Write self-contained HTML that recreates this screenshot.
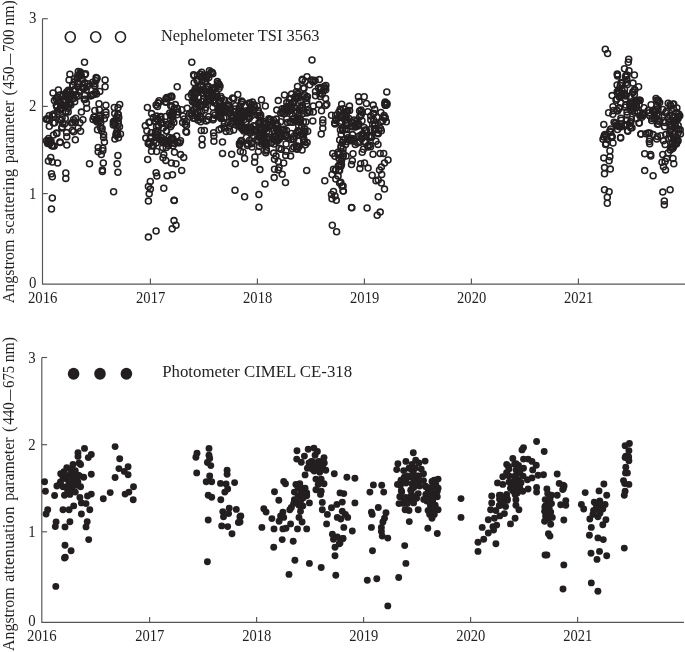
<!DOCTYPE html>
<html lang="en"><head><meta charset="utf-8"><title>Angstrom parameters 2016-2021</title>
<style>html,body{margin:0;padding:0;background:#fff}svg{display:block}</style></head>
<body>
<svg width="685" height="652" viewBox="0 0 685 652">
<rect width="685" height="652" fill="#fff"/>
<g stroke="#585556" stroke-width="1.15" fill="none"><path d="M42.5 18.7V284.1H685"/><path d="M42.5 18.7h5.3"/><path d="M42.5 106.4h5.3"/><path d="M42.5 193.6h5.3"/><path d="M150.4 284.1v-5.5"/><path d="M257.4 284.1v-5.5"/><path d="M364.4 284.1v-5.5"/><path d="M471.4 284.1v-5.5"/><path d="M578.4 284.1v-5.5"/></g>
<g stroke="#585556" stroke-width="1.15" fill="none"><path d="M41.8 357.5V622.4H684"/><path d="M41.8 357.5h5.3"/><path d="M41.8 444.7h5.3"/><path d="M41.8 531.8h5.3"/><path d="M149.6 622.4v-5.5"/><path d="M256.6 622.4v-5.5"/><path d="M363.6 622.4v-5.5"/><path d="M470.6 622.4v-5.5"/><path d="M577.6 622.4v-5.5"/></g>
<g font-family="Liberation Serif, serif" font-size="16.4" fill="#231f20">
<text x="28.9" y="23.3" textLength="7.4" lengthAdjust="spacingAndGlyphs">3</text><text x="28.9" y="110.8" textLength="7.4" lengthAdjust="spacingAndGlyphs">2</text><text x="28.9" y="199" textLength="7.4" lengthAdjust="spacingAndGlyphs">1</text><text x="28.9" y="287.8" textLength="7.4" lengthAdjust="spacingAndGlyphs">0</text>
<text x="28.300000000000004" y="362.6" textLength="7.4" lengthAdjust="spacingAndGlyphs">3</text><text x="28.300000000000004" y="449.9" textLength="7.4" lengthAdjust="spacingAndGlyphs">2</text><text x="28.300000000000004" y="537.2" textLength="7.4" lengthAdjust="spacingAndGlyphs">1</text><text x="28.300000000000004" y="625.8" textLength="7.4" lengthAdjust="spacingAndGlyphs">0</text>
<text x="27.9" y="303.2" textLength="29.6" lengthAdjust="spacingAndGlyphs">2016</text><text x="136.1" y="303.2" textLength="29.1" lengthAdjust="spacingAndGlyphs">2017</text><text x="243.1" y="303.2" textLength="29.1" lengthAdjust="spacingAndGlyphs">2018</text><text x="350.1" y="303.2" textLength="29.1" lengthAdjust="spacingAndGlyphs">2019</text><text x="457.1" y="303.2" textLength="29.1" lengthAdjust="spacingAndGlyphs">2020</text><text x="564.1" y="303.2" textLength="29.1" lengthAdjust="spacingAndGlyphs">2021</text>
<text x="27.0" y="641.2" textLength="29.6" lengthAdjust="spacingAndGlyphs">2016</text><text x="135.3" y="641.2" textLength="29.1" lengthAdjust="spacingAndGlyphs">2017</text><text x="242.3" y="641.2" textLength="29.1" lengthAdjust="spacingAndGlyphs">2018</text><text x="349.3" y="641.2" textLength="29.1" lengthAdjust="spacingAndGlyphs">2019</text><text x="456.3" y="641.2" textLength="29.1" lengthAdjust="spacingAndGlyphs">2020</text><text x="563.3" y="641.2" textLength="29.1" lengthAdjust="spacingAndGlyphs">2021</text>
<text x="160.9" y="41.1" textLength="158.5" lengthAdjust="spacingAndGlyphs">Nephelometer TSI 3563</text>
<text x="162.2" y="376.7" textLength="190" lengthAdjust="spacingAndGlyphs">Photometer CIMEL CE-318</text>
<text transform="translate(14.0 303.1) rotate(-90)"><tspan x="-0.2" textLength="63.8" lengthAdjust="spacingAndGlyphs">Angstrom</tspan> <tspan x="68.9" textLength="65.3" lengthAdjust="spacingAndGlyphs">scattering</tspan> <tspan x="139.8" textLength="62.9" lengthAdjust="spacingAndGlyphs">parameter</tspan> <tspan x="207.7">(</tspan><tspan x="214.1" textLength="22.4" lengthAdjust="spacingAndGlyphs">450</tspan><tspan x="238.1" textLength="11.3" lengthAdjust="spacingAndGlyphs">—</tspan><tspan x="251.2" textLength="22.4" lengthAdjust="spacingAndGlyphs">700</tspan> <tspan x="277.5" textLength="25.4" lengthAdjust="spacingAndGlyphs">nm)</tspan></text>
<text transform="translate(14.0 650.8) rotate(-90)"><tspan x="-0.2" textLength="63.6" lengthAdjust="spacingAndGlyphs">Angstrom</tspan> <tspan x="68.7" textLength="75.6" lengthAdjust="spacingAndGlyphs">attenuation</tspan> <tspan x="150.0" textLength="63.3" lengthAdjust="spacingAndGlyphs">parameter</tspan> <tspan x="218.7">(</tspan><tspan x="226.0" textLength="22.4" lengthAdjust="spacingAndGlyphs">440</tspan><tspan x="249.7" textLength="11.3" lengthAdjust="spacingAndGlyphs">—</tspan><tspan x="262.8" textLength="22.2" lengthAdjust="spacingAndGlyphs">675</tspan> <tspan x="288.5" textLength="25.4" lengthAdjust="spacingAndGlyphs">nm)</tspan></text>
</g>
<g fill="none" stroke="#231f20" stroke-width="1.65">
<ellipse cx="70.3" cy="37" rx="5.0" ry="5.25"/>
<ellipse cx="95.7" cy="37" rx="5.0" ry="5.25"/>
<ellipse cx="120.5" cy="37" rx="5.0" ry="5.25"/>
</g>
<g fill="#231f20">
<ellipse cx="73.6" cy="373.8" rx="5.8" ry="5.95"/>
<ellipse cx="100.0" cy="373.8" rx="5.8" ry="5.95"/>
<ellipse cx="126.4" cy="373.8" rx="5.8" ry="5.95"/>
</g>
<g fill="none" stroke="#231f20" stroke-width="1.55">
<circle cx="84.5" cy="62.3" r="2.98"/><circle cx="69.9" cy="74.2" r="2.98"/><circle cx="78.3" cy="71.5" r="2.98"/><circle cx="85.5" cy="73.8" r="2.98"/><circle cx="69.1" cy="79.9" r="2.98"/><circle cx="96.7" cy="78.4" r="2.98"/><circle cx="105.1" cy="79.9" r="2.98"/><circle cx="105.1" cy="86.8" r="2.98"/><circle cx="94.4" cy="83.7" r="2.98"/><circle cx="95.9" cy="80.7" r="2.98"/><circle cx="58.4" cy="89.9" r="2.98"/><circle cx="53" cy="92.9" r="2.98"/><circle cx="99.8" cy="91.4" r="2.98"/><circle cx="93.6" cy="94.5" r="2.98"/><circle cx="99" cy="103.7" r="2.98"/><circle cx="105.9" cy="105.2" r="2.98"/><circle cx="119.7" cy="104.4" r="2.98"/><circle cx="114.3" cy="107.5" r="2.98"/><circle cx="105.9" cy="112.1" r="2.98"/><circle cx="86.8" cy="108.3" r="2.98"/><circle cx="81.4" cy="112.1" r="2.98"/><circle cx="82.9" cy="119.8" r="2.98"/><circle cx="80.6" cy="131.3" r="2.98"/><circle cx="75.3" cy="139.7" r="2.98"/><circle cx="66.8" cy="136.7" r="2.98"/><circle cx="59.9" cy="142" r="2.98"/><circle cx="66.8" cy="145.1" r="2.98"/><circle cx="53" cy="145.9" r="2.98"/><circle cx="48.4" cy="142" r="2.98"/><circle cx="49.2" cy="140.5" r="2.98"/><circle cx="47.7" cy="143.6" r="2.98"/><circle cx="50" cy="142.8" r="2.98"/><circle cx="97.5" cy="129.8" r="2.98"/><circle cx="103.6" cy="134.4" r="2.98"/><circle cx="103.6" cy="137.4" r="2.98"/><circle cx="104.4" cy="142" r="2.98"/><circle cx="98.2" cy="147.4" r="2.98"/><circle cx="102.8" cy="148.2" r="2.98"/><circle cx="50.7" cy="157.4" r="2.98"/><circle cx="48.4" cy="161" r="2.98"/><circle cx="52.3" cy="162" r="2.98"/><circle cx="57.6" cy="163" r="2.98"/><circle cx="51.5" cy="173.8" r="2.98"/><circle cx="52.3" cy="176.8" r="2.98"/><circle cx="65.8" cy="173" r="2.98"/><circle cx="65.8" cy="178.4" r="2.98"/><circle cx="52.3" cy="197.9" r="2.98"/><circle cx="51.5" cy="209" r="2.98"/><circle cx="89.5" cy="163.8" r="2.98"/><circle cx="101.3" cy="154.6" r="2.98"/><circle cx="98.2" cy="151.8" r="2.98"/><circle cx="102.8" cy="150.8" r="2.98"/><circle cx="103.3" cy="163" r="2.98"/><circle cx="102.4" cy="169.9" r="2.98"/><circle cx="102.4" cy="171.5" r="2.98"/><circle cx="117.9" cy="155.4" r="2.98"/><circle cx="117.1" cy="163.8" r="2.98"/><circle cx="117.9" cy="172.2" r="2.98"/><circle cx="113.6" cy="191.7" r="2.98"/><circle cx="191.8" cy="62.3" r="2.98"/><circle cx="177.2" cy="86.8" r="2.98"/><circle cx="147.4" cy="107.5" r="2.98"/><circle cx="237.8" cy="94.5" r="2.98"/><circle cx="170.7" cy="96.8" r="2.98"/><circle cx="201.3" cy="130.5" r="2.98"/><circle cx="204.4" cy="130.5" r="2.98"/><circle cx="202.1" cy="139" r="2.98"/><circle cx="202.1" cy="145.1" r="2.98"/><circle cx="213.6" cy="132.8" r="2.98"/><circle cx="213.9" cy="135.9" r="2.98"/><circle cx="213.9" cy="141.3" r="2.98"/><circle cx="222.5" cy="142" r="2.98"/><circle cx="241.2" cy="140.5" r="2.98"/><circle cx="239.6" cy="145.1" r="2.98"/><circle cx="147.7" cy="159.5" r="2.98"/><circle cx="151.5" cy="151.2" r="2.98"/><circle cx="156.6" cy="151.5" r="2.98"/><circle cx="163.8" cy="154.6" r="2.98"/><circle cx="163" cy="157.7" r="2.98"/><circle cx="165.8" cy="160.4" r="2.98"/><circle cx="171.4" cy="163" r="2.98"/><circle cx="176" cy="163.8" r="2.98"/><circle cx="174.5" cy="152.3" r="2.98"/><circle cx="180.6" cy="154.6" r="2.98"/><circle cx="183.7" cy="157.4" r="2.98"/><circle cx="181.7" cy="170.4" r="2.98"/><circle cx="156.1" cy="172.7" r="2.98"/><circle cx="156.9" cy="176.1" r="2.98"/><circle cx="167.1" cy="175.8" r="2.98"/><circle cx="172.5" cy="174.8" r="2.98"/><circle cx="150.3" cy="181.4" r="2.98"/><circle cx="148.4" cy="186.5" r="2.98"/><circle cx="150.4" cy="189.1" r="2.98"/><circle cx="149.2" cy="193.7" r="2.98"/><circle cx="148.4" cy="201.1" r="2.98"/><circle cx="163.8" cy="188.3" r="2.98"/><circle cx="174" cy="200.3" r="2.98"/><circle cx="174.3" cy="200.6" r="2.98"/><circle cx="174" cy="220.6" r="2.98"/><circle cx="176" cy="225.2" r="2.98"/><circle cx="172.2" cy="228.7" r="2.98"/><circle cx="156.1" cy="231" r="2.98"/><circle cx="148.4" cy="237.1" r="2.98"/><circle cx="222.5" cy="153.4" r="2.98"/><circle cx="231.7" cy="154.3" r="2.98"/><circle cx="240.4" cy="151.5" r="2.98"/><circle cx="235.3" cy="163.8" r="2.98"/><circle cx="235" cy="190.2" r="2.98"/><circle cx="312" cy="60" r="2.98"/><circle cx="322.8" cy="119.8" r="2.98"/><circle cx="322.8" cy="122.9" r="2.98"/><circle cx="322.8" cy="128.2" r="2.98"/><circle cx="321.2" cy="134" r="2.98"/><circle cx="313.3" cy="106" r="2.98"/><circle cx="313.3" cy="112.1" r="2.98"/><circle cx="312.8" cy="120.9" r="2.98"/><circle cx="331.5" cy="115.2" r="2.98"/><circle cx="261.5" cy="99.8" r="2.98"/><circle cx="278.3" cy="100.6" r="2.98"/><circle cx="265.3" cy="106" r="2.98"/><circle cx="276.8" cy="110.1" r="2.98"/><circle cx="284.5" cy="94.9" r="2.98"/><circle cx="297.5" cy="86.5" r="2.98"/><circle cx="244.6" cy="158.4" r="2.98"/><circle cx="243.1" cy="152.3" r="2.98"/><circle cx="254.9" cy="156.9" r="2.98"/><circle cx="254.6" cy="162.3" r="2.98"/><circle cx="259.9" cy="169.6" r="2.98"/><circle cx="265.8" cy="152.8" r="2.98"/><circle cx="258.4" cy="151.5" r="2.98"/><circle cx="273.7" cy="153.1" r="2.98"/><circle cx="276" cy="156.1" r="2.98"/><circle cx="274.5" cy="159.2" r="2.98"/><circle cx="278.3" cy="161.5" r="2.98"/><circle cx="283.7" cy="163" r="2.98"/><circle cx="274.5" cy="169.2" r="2.98"/><circle cx="279.1" cy="167.6" r="2.98"/><circle cx="278.3" cy="169.9" r="2.98"/><circle cx="282.2" cy="174.2" r="2.98"/><circle cx="274.2" cy="177.6" r="2.98"/><circle cx="285.5" cy="182.5" r="2.98"/><circle cx="265" cy="184" r="2.98"/><circle cx="258.9" cy="194.5" r="2.98"/><circle cx="244.6" cy="196.8" r="2.98"/><circle cx="258.9" cy="207.2" r="2.98"/><circle cx="285.7" cy="155.4" r="2.98"/><circle cx="290.6" cy="156.1" r="2.98"/><circle cx="286" cy="151.2" r="2.98"/><circle cx="302.1" cy="150" r="2.98"/><circle cx="306.7" cy="170.4" r="2.98"/><circle cx="324.8" cy="180.7" r="2.98"/><circle cx="332.7" cy="153.4" r="2.98"/><circle cx="338.1" cy="152.3" r="2.98"/><circle cx="338.9" cy="158.4" r="2.98"/><circle cx="341.2" cy="161.5" r="2.98"/><circle cx="339.6" cy="164.6" r="2.98"/><circle cx="333.5" cy="169.2" r="2.98"/><circle cx="335.8" cy="169.9" r="2.98"/><circle cx="332" cy="174.5" r="2.98"/><circle cx="338.1" cy="176.1" r="2.98"/><circle cx="335.8" cy="179.1" r="2.98"/><circle cx="339.6" cy="183" r="2.98"/><circle cx="341.9" cy="186" r="2.98"/><circle cx="343" cy="191.1" r="2.98"/><circle cx="333.5" cy="191.4" r="2.98"/><circle cx="331.5" cy="194.5" r="2.98"/><circle cx="335" cy="196" r="2.98"/><circle cx="332" cy="198.8" r="2.98"/><circle cx="336.3" cy="200.3" r="2.98"/><circle cx="332.3" cy="225.2" r="2.98"/><circle cx="336.6" cy="231.7" r="2.98"/><circle cx="386.8" cy="91.9" r="2.98"/><circle cx="385.2" cy="102.1" r="2.98"/><circle cx="385.2" cy="105.2" r="2.98"/><circle cx="384.8" cy="103.7" r="2.98"/><circle cx="358.4" cy="96.8" r="2.98"/><circle cx="364.2" cy="96.8" r="2.98"/><circle cx="359.2" cy="101.4" r="2.98"/><circle cx="366.4" cy="103.4" r="2.98"/><circle cx="343.1" cy="153.1" r="2.98"/><circle cx="346.1" cy="156.1" r="2.98"/><circle cx="341.5" cy="160.7" r="2.98"/><circle cx="341.5" cy="164.6" r="2.98"/><circle cx="353" cy="153.8" r="2.98"/><circle cx="352.3" cy="160.7" r="2.98"/><circle cx="351.5" cy="164.6" r="2.98"/><circle cx="362.2" cy="152.3" r="2.98"/><circle cx="360.7" cy="163.8" r="2.98"/><circle cx="364.5" cy="163" r="2.98"/><circle cx="359.9" cy="168.4" r="2.98"/><circle cx="368.1" cy="168.1" r="2.98"/><circle cx="373" cy="154.3" r="2.98"/><circle cx="380.2" cy="153.4" r="2.98"/><circle cx="383.7" cy="153.4" r="2.98"/><circle cx="388" cy="160" r="2.98"/><circle cx="384.5" cy="163" r="2.98"/><circle cx="381.4" cy="166.9" r="2.98"/><circle cx="379.5" cy="169.9" r="2.98"/><circle cx="381.7" cy="174.5" r="2.98"/><circle cx="372.2" cy="175.3" r="2.98"/><circle cx="376" cy="180.7" r="2.98"/><circle cx="378.3" cy="179.9" r="2.98"/><circle cx="381.4" cy="183" r="2.98"/><circle cx="384.5" cy="189.1" r="2.98"/><circle cx="378.3" cy="196.8" r="2.98"/><circle cx="340.8" cy="182.2" r="2.98"/><circle cx="343.1" cy="186" r="2.98"/><circle cx="343.4" cy="191.1" r="2.98"/><circle cx="351.5" cy="207.5" r="2.98"/><circle cx="351.8" cy="207.8" r="2.98"/><circle cx="367.1" cy="208" r="2.98"/><circle cx="380.2" cy="212.1" r="2.98"/><circle cx="377.2" cy="215.2" r="2.98"/><circle cx="605.3" cy="49.2" r="2.98"/><circle cx="607.6" cy="53.5" r="2.98"/><circle cx="628.7" cy="59.2" r="2.98"/><circle cx="628.3" cy="62.2" r="2.98"/><circle cx="624.5" cy="68.8" r="2.98"/><circle cx="629" cy="70.7" r="2.98"/><circle cx="626" cy="75.6" r="2.98"/><circle cx="634.4" cy="75" r="2.98"/><circle cx="617.6" cy="76" r="2.98"/><circle cx="603.8" cy="124.4" r="2.98"/><circle cx="641" cy="133.9" r="2.98"/><circle cx="604.5" cy="135.1" r="2.98"/><circle cx="610.7" cy="129" r="2.98"/><circle cx="620.6" cy="137.4" r="2.98"/><circle cx="627.5" cy="130.5" r="2.98"/><circle cx="629.8" cy="125.9" r="2.98"/><circle cx="605.3" cy="134.6" r="2.98"/><circle cx="603" cy="139.2" r="2.98"/><circle cx="606.1" cy="143.8" r="2.98"/><circle cx="613" cy="143" r="2.98"/><circle cx="612.2" cy="136.9" r="2.98"/><circle cx="610.7" cy="132.3" r="2.98"/><circle cx="620.6" cy="138" r="2.98"/><circle cx="609.9" cy="150.7" r="2.98"/><circle cx="603.8" cy="157.9" r="2.98"/><circle cx="609.9" cy="156.8" r="2.98"/><circle cx="609.1" cy="160.7" r="2.98"/><circle cx="604.5" cy="167.6" r="2.98"/><circle cx="610.3" cy="169.1" r="2.98"/><circle cx="604.5" cy="173.7" r="2.98"/><circle cx="604.5" cy="189.8" r="2.98"/><circle cx="609.1" cy="191.8" r="2.98"/><circle cx="607.3" cy="197.2" r="2.98"/><circle cx="607.3" cy="203.3" r="2.98"/><circle cx="627.8" cy="131.2" r="2.98"/><circle cx="640.9" cy="134.1" r="2.98"/><circle cx="649.7" cy="133.1" r="2.98"/><circle cx="657.4" cy="136.4" r="2.98"/><circle cx="649.7" cy="139.2" r="2.98"/><circle cx="649.3" cy="141.5" r="2.98"/><circle cx="649.7" cy="143.8" r="2.98"/><circle cx="644.7" cy="153.8" r="2.98"/><circle cx="650.5" cy="154.5" r="2.98"/><circle cx="650.8" cy="156.1" r="2.98"/><circle cx="644.7" cy="170.6" r="2.98"/><circle cx="653.1" cy="175.7" r="2.98"/><circle cx="665.8" cy="134.6" r="2.98"/><circle cx="663.5" cy="140.7" r="2.98"/><circle cx="665.1" cy="144.6" r="2.98"/><circle cx="678.1" cy="133.1" r="2.98"/><circle cx="676.6" cy="136.9" r="2.98"/><circle cx="678.1" cy="140.7" r="2.98"/><circle cx="675" cy="143.8" r="2.98"/><circle cx="673.5" cy="146.9" r="2.98"/><circle cx="670.4" cy="149.9" r="2.98"/><circle cx="668.1" cy="153" r="2.98"/><circle cx="662.8" cy="154.5" r="2.98"/><circle cx="666.6" cy="158.4" r="2.98"/><circle cx="673" cy="158.4" r="2.98"/><circle cx="662" cy="162.2" r="2.98"/><circle cx="665.1" cy="161.4" r="2.98"/><circle cx="673.8" cy="163.7" r="2.98"/><circle cx="663.5" cy="166.8" r="2.98"/><circle cx="665.5" cy="169.9" r="2.98"/><circle cx="662.8" cy="192.1" r="2.98"/><circle cx="670.1" cy="189.8" r="2.98"/><circle cx="664.3" cy="200.9" r="2.98"/><circle cx="664.3" cy="204.7" r="2.98"/><circle cx="56.1" cy="98.8" r="2.98"/><circle cx="70.5" cy="103.3" r="2.98"/><circle cx="72.4" cy="99" r="2.98"/><circle cx="56.6" cy="105.5" r="2.98"/><circle cx="57.3" cy="97.5" r="2.98"/><circle cx="57" cy="107.2" r="2.98"/><circle cx="65.5" cy="93.8" r="2.98"/><circle cx="64.7" cy="102.1" r="2.98"/><circle cx="65.5" cy="95.7" r="2.98"/><circle cx="65.9" cy="105.5" r="2.98"/><circle cx="61.1" cy="108.1" r="2.98"/><circle cx="54.4" cy="100.6" r="2.98"/><circle cx="69.4" cy="102.4" r="2.98"/><circle cx="63.3" cy="94.8" r="2.98"/><circle cx="61.2" cy="105" r="2.98"/><circle cx="70.4" cy="96.3" r="2.98"/><circle cx="59" cy="100.2" r="2.98"/><circle cx="66.1" cy="112" r="2.98"/><circle cx="59.8" cy="101.9" r="2.98"/><circle cx="60.4" cy="108.2" r="2.98"/><circle cx="60.2" cy="109.4" r="2.98"/><circle cx="70.8" cy="104.9" r="2.98"/><circle cx="60.8" cy="110" r="2.98"/><circle cx="63.1" cy="102.2" r="2.98"/><circle cx="65.6" cy="111.2" r="2.98"/><circle cx="74.7" cy="101.8" r="2.98"/><circle cx="67.9" cy="108.2" r="2.98"/><circle cx="60.6" cy="103.3" r="2.98"/><circle cx="57.6" cy="97.4" r="2.98"/><circle cx="66.9" cy="104.4" r="2.98"/><circle cx="61.2" cy="105.5" r="2.98"/><circle cx="56.3" cy="105.2" r="2.98"/><circle cx="63.1" cy="95.7" r="2.98"/><circle cx="68.7" cy="104.3" r="2.98"/><circle cx="59.8" cy="95" r="2.98"/><circle cx="74" cy="98.3" r="2.98"/><circle cx="67.2" cy="94.5" r="2.98"/><circle cx="59.5" cy="109.6" r="2.98"/><circle cx="77.3" cy="77.7" r="2.98"/><circle cx="77.3" cy="78.7" r="2.98"/><circle cx="77.8" cy="75.2" r="2.98"/><circle cx="86.2" cy="90" r="2.98"/><circle cx="73" cy="85.4" r="2.98"/><circle cx="85" cy="83.6" r="2.98"/><circle cx="80.4" cy="74.5" r="2.98"/><circle cx="83" cy="88.1" r="2.98"/><circle cx="77.8" cy="87.1" r="2.98"/><circle cx="80.4" cy="75.4" r="2.98"/><circle cx="79.2" cy="91.4" r="2.98"/><circle cx="82.2" cy="87.4" r="2.98"/><circle cx="81.2" cy="75.8" r="2.98"/><circle cx="84.5" cy="87.9" r="2.98"/><circle cx="74.2" cy="82.1" r="2.98"/><circle cx="87.3" cy="86.5" r="2.98"/><circle cx="72.7" cy="85.2" r="2.98"/><circle cx="74.4" cy="78.8" r="2.98"/><circle cx="84.7" cy="82.7" r="2.98"/><circle cx="80.8" cy="73.2" r="2.98"/><circle cx="82.2" cy="79.7" r="2.98"/><circle cx="77.9" cy="83.8" r="2.98"/><circle cx="87.8" cy="83.7" r="2.98"/><circle cx="77.8" cy="82.1" r="2.98"/><circle cx="83.7" cy="88.6" r="2.98"/><circle cx="80.3" cy="72.1" r="2.98"/><circle cx="74.8" cy="89.2" r="2.98"/><circle cx="84.9" cy="74.7" r="2.98"/><circle cx="75.2" cy="90.9" r="2.98"/><circle cx="69.8" cy="95.3" r="2.98"/><circle cx="68.3" cy="90.2" r="2.98"/><circle cx="77.1" cy="96.2" r="2.98"/><circle cx="68.7" cy="92.1" r="2.98"/><circle cx="66.8" cy="91.9" r="2.98"/><circle cx="69.8" cy="91.6" r="2.98"/><circle cx="68.5" cy="97.6" r="2.98"/><circle cx="75.8" cy="94.8" r="2.98"/><circle cx="78.9" cy="95.7" r="2.98"/><circle cx="52.4" cy="114.9" r="2.98"/><circle cx="62.2" cy="127" r="2.98"/><circle cx="72.7" cy="122.4" r="2.98"/><circle cx="53.3" cy="123" r="2.98"/><circle cx="47.7" cy="119.3" r="2.98"/><circle cx="53.9" cy="114" r="2.98"/><circle cx="46.6" cy="119.1" r="2.98"/><circle cx="61.1" cy="120.2" r="2.98"/><circle cx="73.5" cy="119.7" r="2.98"/><circle cx="72.4" cy="130.4" r="2.98"/><circle cx="56.9" cy="133.4" r="2.98"/><circle cx="78.1" cy="128" r="2.98"/><circle cx="73.7" cy="131.8" r="2.98"/><circle cx="57.7" cy="111.4" r="2.98"/><circle cx="75.3" cy="121.9" r="2.98"/><circle cx="46.4" cy="119.3" r="2.98"/><circle cx="68.2" cy="111.9" r="2.98"/><circle cx="64.4" cy="124.1" r="2.98"/><circle cx="62.1" cy="117.8" r="2.98"/><circle cx="79.9" cy="122.8" r="2.98"/><circle cx="75.7" cy="118.2" r="2.98"/><circle cx="59.8" cy="119" r="2.98"/><circle cx="61.7" cy="127.9" r="2.98"/><circle cx="53.6" cy="116.2" r="2.98"/><circle cx="49.3" cy="115.5" r="2.98"/><circle cx="71.5" cy="123.1" r="2.98"/><circle cx="49.3" cy="126.3" r="2.98"/><circle cx="54.7" cy="122.7" r="2.98"/><circle cx="49.5" cy="120.3" r="2.98"/><circle cx="65.3" cy="118.5" r="2.98"/><circle cx="66.6" cy="132.6" r="2.98"/><circle cx="62.6" cy="123.6" r="2.98"/><circle cx="46.5" cy="140.8" r="2.98"/><circle cx="48.6" cy="138.5" r="2.98"/><circle cx="60.3" cy="142.6" r="2.98"/><circle cx="56.5" cy="133" r="2.98"/><circle cx="54.2" cy="145.9" r="2.98"/><circle cx="51.7" cy="145.8" r="2.98"/><circle cx="49.3" cy="143.4" r="2.98"/><circle cx="53.6" cy="135" r="2.98"/><circle cx="48.9" cy="140.4" r="2.98"/><circle cx="51.1" cy="141.3" r="2.98"/><circle cx="50.3" cy="141.8" r="2.98"/><circle cx="49.8" cy="143.5" r="2.98"/><circle cx="47.9" cy="141.6" r="2.98"/><circle cx="92.7" cy="82.3" r="2.98"/><circle cx="96.1" cy="77.4" r="2.98"/><circle cx="94.8" cy="86.2" r="2.98"/><circle cx="97" cy="78.3" r="2.98"/><circle cx="94.7" cy="85.6" r="2.98"/><circle cx="95.6" cy="92.6" r="2.98"/><circle cx="93.4" cy="94.5" r="2.98"/><circle cx="91.9" cy="95.1" r="2.98"/><circle cx="91.3" cy="95.6" r="2.98"/><circle cx="90.4" cy="96" r="2.98"/><circle cx="96.5" cy="93.9" r="2.98"/><circle cx="99.7" cy="118.4" r="2.98"/><circle cx="93.9" cy="116.9" r="2.98"/><circle cx="93" cy="119.5" r="2.98"/><circle cx="105.9" cy="115" r="2.98"/><circle cx="95.9" cy="120" r="2.98"/><circle cx="99.7" cy="115.3" r="2.98"/><circle cx="99.4" cy="121.1" r="2.98"/><circle cx="96.2" cy="120.8" r="2.98"/><circle cx="94.8" cy="110.5" r="2.98"/><circle cx="97.2" cy="118.9" r="2.98"/><circle cx="97.3" cy="122" r="2.98"/><circle cx="100" cy="116.3" r="2.98"/><circle cx="99.3" cy="109.8" r="2.98"/><circle cx="100.7" cy="118.2" r="2.98"/><circle cx="104.4" cy="118.7" r="2.98"/><circle cx="99.5" cy="115.8" r="2.98"/><circle cx="100.8" cy="122.4" r="2.98"/><circle cx="94.4" cy="117.1" r="2.98"/><circle cx="102.1" cy="128.6" r="2.98"/><circle cx="101.7" cy="130.9" r="2.98"/><circle cx="100.4" cy="127.4" r="2.98"/><circle cx="116.7" cy="117" r="2.98"/><circle cx="113.9" cy="123.4" r="2.98"/><circle cx="115.2" cy="124.1" r="2.98"/><circle cx="120.5" cy="134" r="2.98"/><circle cx="117.2" cy="131.4" r="2.98"/><circle cx="117.8" cy="134.5" r="2.98"/><circle cx="118" cy="107.8" r="2.98"/><circle cx="118.2" cy="121.1" r="2.98"/><circle cx="115.9" cy="135.2" r="2.98"/><circle cx="119.5" cy="126.7" r="2.98"/><circle cx="117.2" cy="128.3" r="2.98"/><circle cx="114.9" cy="139.1" r="2.98"/><circle cx="116.3" cy="133.2" r="2.98"/><circle cx="118.3" cy="124.2" r="2.98"/><circle cx="114.2" cy="121.1" r="2.98"/><circle cx="118.5" cy="137.7" r="2.98"/><circle cx="118.8" cy="117.6" r="2.98"/><circle cx="118.1" cy="114.3" r="2.98"/><circle cx="114.7" cy="113.6" r="2.98"/><circle cx="113.3" cy="124.9" r="2.98"/><circle cx="118.1" cy="114.6" r="2.98"/><circle cx="113.3" cy="122.1" r="2.98"/><circle cx="85.3" cy="99.2" r="2.98"/><circle cx="84.3" cy="99.6" r="2.98"/><circle cx="84.8" cy="95.3" r="2.98"/><circle cx="86.4" cy="103.1" r="2.98"/><circle cx="155.4" cy="121.2" r="2.98"/><circle cx="155.2" cy="134.3" r="2.98"/><circle cx="149.4" cy="144.1" r="2.98"/><circle cx="151.6" cy="113.6" r="2.98"/><circle cx="153.4" cy="117.6" r="2.98"/><circle cx="151" cy="137.7" r="2.98"/><circle cx="158" cy="132.4" r="2.98"/><circle cx="155.5" cy="131.6" r="2.98"/><circle cx="156.5" cy="126.5" r="2.98"/><circle cx="151.3" cy="132.8" r="2.98"/><circle cx="155.9" cy="118.4" r="2.98"/><circle cx="156.6" cy="137.5" r="2.98"/><circle cx="145.8" cy="138.1" r="2.98"/><circle cx="148.2" cy="143.4" r="2.98"/><circle cx="146.9" cy="130.7" r="2.98"/><circle cx="156.3" cy="142.9" r="2.98"/><circle cx="151.5" cy="146" r="2.98"/><circle cx="150.9" cy="138" r="2.98"/><circle cx="148.9" cy="122.4" r="2.98"/><circle cx="149.8" cy="122" r="2.98"/><circle cx="145.3" cy="125.7" r="2.98"/><circle cx="150.5" cy="136.9" r="2.98"/><circle cx="169" cy="137.4" r="2.98"/><circle cx="172" cy="142.7" r="2.98"/><circle cx="153.3" cy="145.8" r="2.98"/><circle cx="170.9" cy="140" r="2.98"/><circle cx="148.9" cy="141.8" r="2.98"/><circle cx="162.7" cy="147.4" r="2.98"/><circle cx="172.2" cy="137.9" r="2.98"/><circle cx="166.3" cy="147.4" r="2.98"/><circle cx="154.1" cy="140.8" r="2.98"/><circle cx="157.2" cy="137.8" r="2.98"/><circle cx="158.5" cy="103.1" r="2.98"/><circle cx="156.1" cy="105.1" r="2.98"/><circle cx="159.1" cy="100.7" r="2.98"/><circle cx="158.1" cy="102.8" r="2.98"/><circle cx="157.5" cy="106.5" r="2.98"/><circle cx="166.8" cy="97.4" r="2.98"/><circle cx="166.5" cy="102.3" r="2.98"/><circle cx="169" cy="97.3" r="2.98"/><circle cx="167.4" cy="98.6" r="2.98"/><circle cx="171.9" cy="97.1" r="2.98"/><circle cx="165.2" cy="101.9" r="2.98"/><circle cx="171.5" cy="95.9" r="2.98"/><circle cx="165.9" cy="98.8" r="2.98"/><circle cx="180.5" cy="140.8" r="2.98"/><circle cx="170.7" cy="105.7" r="2.98"/><circle cx="164.7" cy="141" r="2.98"/><circle cx="179.7" cy="142.8" r="2.98"/><circle cx="166" cy="116.4" r="2.98"/><circle cx="157.4" cy="131.7" r="2.98"/><circle cx="185.2" cy="124.2" r="2.98"/><circle cx="162.3" cy="141.2" r="2.98"/><circle cx="171.3" cy="138.7" r="2.98"/><circle cx="177.3" cy="108.2" r="2.98"/><circle cx="176.9" cy="114.7" r="2.98"/><circle cx="170.4" cy="114.9" r="2.98"/><circle cx="161.4" cy="137.9" r="2.98"/><circle cx="186.5" cy="121.8" r="2.98"/><circle cx="171.3" cy="115.5" r="2.98"/><circle cx="175.3" cy="104.6" r="2.98"/><circle cx="173.9" cy="122.4" r="2.98"/><circle cx="183.1" cy="116" r="2.98"/><circle cx="160.7" cy="122.9" r="2.98"/><circle cx="177.4" cy="142.3" r="2.98"/><circle cx="167.6" cy="142.1" r="2.98"/><circle cx="186.5" cy="125.6" r="2.98"/><circle cx="160.9" cy="119.4" r="2.98"/><circle cx="170.5" cy="119.5" r="2.98"/><circle cx="174.1" cy="108.5" r="2.98"/><circle cx="156.6" cy="136.9" r="2.98"/><circle cx="185.9" cy="131.5" r="2.98"/><circle cx="160.4" cy="139.8" r="2.98"/><circle cx="173.4" cy="112.2" r="2.98"/><circle cx="157.8" cy="119.4" r="2.98"/><circle cx="166.4" cy="130.8" r="2.98"/><circle cx="182.6" cy="122.6" r="2.98"/><circle cx="158.4" cy="126.4" r="2.98"/><circle cx="162.3" cy="123.5" r="2.98"/><circle cx="184.3" cy="119" r="2.98"/><circle cx="160.8" cy="116.4" r="2.98"/><circle cx="172.8" cy="119.6" r="2.98"/><circle cx="172" cy="106.6" r="2.98"/><circle cx="174.6" cy="143.5" r="2.98"/><circle cx="178" cy="142.7" r="2.98"/><circle cx="172.5" cy="113.5" r="2.98"/><circle cx="164" cy="139.7" r="2.98"/><circle cx="173" cy="138.8" r="2.98"/><circle cx="166.5" cy="130.9" r="2.98"/><circle cx="169.7" cy="123.7" r="2.98"/><circle cx="172.9" cy="145.9" r="2.98"/><circle cx="163.3" cy="128" r="2.98"/><circle cx="172.4" cy="116.4" r="2.98"/><circle cx="163.2" cy="143.1" r="2.98"/><circle cx="160.3" cy="117.1" r="2.98"/><circle cx="177.9" cy="111.9" r="2.98"/><circle cx="168" cy="143.8" r="2.98"/><circle cx="176.7" cy="136.1" r="2.98"/><circle cx="172.9" cy="115.4" r="2.98"/><circle cx="181.7" cy="109.7" r="2.98"/><circle cx="161.3" cy="137.4" r="2.98"/><circle cx="157.5" cy="134.8" r="2.98"/><circle cx="158.2" cy="124.7" r="2.98"/><circle cx="170.5" cy="126.8" r="2.98"/><circle cx="168.3" cy="140.4" r="2.98"/><circle cx="156.6" cy="116.1" r="2.98"/><circle cx="186.6" cy="132.2" r="2.98"/><circle cx="171.4" cy="125" r="2.98"/><circle cx="168.5" cy="145.4" r="2.98"/><circle cx="169.7" cy="113.1" r="2.98"/><circle cx="167.3" cy="124.5" r="2.98"/><circle cx="219.6" cy="106" r="2.98"/><circle cx="195.5" cy="94.2" r="2.98"/><circle cx="215.4" cy="92.4" r="2.98"/><circle cx="196.1" cy="88.1" r="2.98"/><circle cx="197.3" cy="117.1" r="2.98"/><circle cx="208.3" cy="93.9" r="2.98"/><circle cx="203.4" cy="93" r="2.98"/><circle cx="188.3" cy="97" r="2.98"/><circle cx="201.4" cy="90.1" r="2.98"/><circle cx="192.7" cy="102.1" r="2.98"/><circle cx="191" cy="112.8" r="2.98"/><circle cx="213.3" cy="100.5" r="2.98"/><circle cx="202.5" cy="119" r="2.98"/><circle cx="212.9" cy="107.3" r="2.98"/><circle cx="203.7" cy="89.8" r="2.98"/><circle cx="214.6" cy="102.9" r="2.98"/><circle cx="220.8" cy="96.4" r="2.98"/><circle cx="206.2" cy="120.9" r="2.98"/><circle cx="208.2" cy="86.3" r="2.98"/><circle cx="201.7" cy="111.4" r="2.98"/><circle cx="212" cy="88.1" r="2.98"/><circle cx="193.4" cy="118.2" r="2.98"/><circle cx="217.2" cy="97.5" r="2.98"/><circle cx="205.5" cy="107.6" r="2.98"/><circle cx="198.1" cy="120.3" r="2.98"/><circle cx="194.8" cy="118.4" r="2.98"/><circle cx="202" cy="105.2" r="2.98"/><circle cx="197.9" cy="87.2" r="2.98"/><circle cx="194.8" cy="99.3" r="2.98"/><circle cx="208.7" cy="116.6" r="2.98"/><circle cx="217.2" cy="96.8" r="2.98"/><circle cx="218" cy="107.8" r="2.98"/><circle cx="207.8" cy="93.5" r="2.98"/><circle cx="191.3" cy="94.8" r="2.98"/><circle cx="210.5" cy="100.7" r="2.98"/><circle cx="210.8" cy="92.3" r="2.98"/><circle cx="192.8" cy="92.7" r="2.98"/><circle cx="192.3" cy="101.1" r="2.98"/><circle cx="192.6" cy="110.9" r="2.98"/><circle cx="206.9" cy="92.8" r="2.98"/><circle cx="198.8" cy="97.8" r="2.98"/><circle cx="213.5" cy="113.5" r="2.98"/><circle cx="206.8" cy="99.2" r="2.98"/><circle cx="195.2" cy="103.3" r="2.98"/><circle cx="200.7" cy="121.7" r="2.98"/><circle cx="198.2" cy="97.5" r="2.98"/><circle cx="207.5" cy="86.9" r="2.98"/><circle cx="194.9" cy="113.8" r="2.98"/><circle cx="201" cy="117.4" r="2.98"/><circle cx="208.5" cy="100" r="2.98"/><circle cx="197.9" cy="112.3" r="2.98"/><circle cx="192" cy="115.7" r="2.98"/><circle cx="220.7" cy="101.2" r="2.98"/><circle cx="195" cy="101.4" r="2.98"/><circle cx="196.9" cy="114.7" r="2.98"/><circle cx="212.9" cy="95.4" r="2.98"/><circle cx="213.5" cy="117.9" r="2.98"/><circle cx="213" cy="89.9" r="2.98"/><circle cx="221.3" cy="98.5" r="2.98"/><circle cx="218.5" cy="107.9" r="2.98"/><circle cx="221.6" cy="109" r="2.98"/><circle cx="214.1" cy="96.6" r="2.98"/><circle cx="214.6" cy="100" r="2.98"/><circle cx="193.9" cy="109.6" r="2.98"/><circle cx="220.7" cy="107.6" r="2.98"/><circle cx="208.1" cy="96" r="2.98"/><circle cx="189.5" cy="113.4" r="2.98"/><circle cx="195.5" cy="89.2" r="2.98"/><circle cx="213" cy="119.5" r="2.98"/><circle cx="205" cy="109.7" r="2.98"/><circle cx="200.2" cy="105.4" r="2.98"/><circle cx="206.7" cy="89" r="2.98"/><circle cx="202.2" cy="92.6" r="2.98"/><circle cx="208.2" cy="119.7" r="2.98"/><circle cx="203.5" cy="104.9" r="2.98"/><circle cx="195.6" cy="92.8" r="2.98"/><circle cx="200.1" cy="115.8" r="2.98"/><circle cx="199.9" cy="106.4" r="2.98"/><circle cx="196" cy="107.3" r="2.98"/><circle cx="205.5" cy="91" r="2.98"/><circle cx="218.8" cy="101.4" r="2.98"/><circle cx="212.3" cy="93.4" r="2.98"/><circle cx="220.7" cy="106.7" r="2.98"/><circle cx="194.2" cy="101.2" r="2.98"/><circle cx="197.3" cy="102.8" r="2.98"/><circle cx="214.8" cy="115.2" r="2.98"/><circle cx="213" cy="119.7" r="2.98"/><circle cx="221.7" cy="106.4" r="2.98"/><circle cx="187.2" cy="108.2" r="2.98"/><circle cx="192.2" cy="92.9" r="2.98"/><circle cx="208.4" cy="92.6" r="2.98"/><circle cx="216.8" cy="85.7" r="2.98"/><circle cx="219" cy="88.6" r="2.98"/><circle cx="212.8" cy="73.7" r="2.98"/><circle cx="200.2" cy="74.1" r="2.98"/><circle cx="194.4" cy="93.7" r="2.98"/><circle cx="205.8" cy="81.4" r="2.98"/><circle cx="194.2" cy="75.8" r="2.98"/><circle cx="201.9" cy="76.7" r="2.98"/><circle cx="204.7" cy="82.4" r="2.98"/><circle cx="209.7" cy="90.8" r="2.98"/><circle cx="195" cy="89.6" r="2.98"/><circle cx="203.9" cy="75.1" r="2.98"/><circle cx="212.9" cy="92.2" r="2.98"/><circle cx="202.1" cy="81.2" r="2.98"/><circle cx="212.9" cy="88.3" r="2.98"/><circle cx="208.5" cy="74.8" r="2.98"/><circle cx="207.1" cy="94.2" r="2.98"/><circle cx="206.4" cy="76.6" r="2.98"/><circle cx="201.1" cy="85.3" r="2.98"/><circle cx="215.5" cy="88.2" r="2.98"/><circle cx="217.4" cy="81.6" r="2.98"/><circle cx="219.1" cy="84.6" r="2.98"/><circle cx="204.4" cy="90.5" r="2.98"/><circle cx="202" cy="101.7" r="2.98"/><circle cx="220" cy="86.2" r="2.98"/><circle cx="195.4" cy="91.4" r="2.98"/><circle cx="216.7" cy="94.3" r="2.98"/><circle cx="208.8" cy="100.5" r="2.98"/><circle cx="194.1" cy="82.7" r="2.98"/><circle cx="203.6" cy="99" r="2.98"/><circle cx="218.1" cy="83.2" r="2.98"/><circle cx="206.6" cy="102" r="2.98"/><circle cx="212.3" cy="72.6" r="2.98"/><circle cx="200" cy="76.4" r="2.98"/><circle cx="211.2" cy="71.9" r="2.98"/><circle cx="196.9" cy="80.5" r="2.98"/><circle cx="206.3" cy="78.6" r="2.98"/><circle cx="201.7" cy="72.2" r="2.98"/><circle cx="208.8" cy="77.5" r="2.98"/><circle cx="193.6" cy="74.7" r="2.98"/><circle cx="197.9" cy="81" r="2.98"/><circle cx="209.4" cy="70.8" r="2.98"/><circle cx="197.5" cy="75.4" r="2.98"/><circle cx="218.9" cy="114.2" r="2.98"/><circle cx="220.4" cy="109.1" r="2.98"/><circle cx="237.8" cy="116.7" r="2.98"/><circle cx="222.4" cy="108.7" r="2.98"/><circle cx="237.8" cy="115.7" r="2.98"/><circle cx="235.5" cy="105.7" r="2.98"/><circle cx="241.4" cy="119.5" r="2.98"/><circle cx="220.7" cy="110.9" r="2.98"/><circle cx="224.4" cy="107.7" r="2.98"/><circle cx="223.9" cy="118" r="2.98"/><circle cx="236.7" cy="122.4" r="2.98"/><circle cx="224.4" cy="123.7" r="2.98"/><circle cx="244.6" cy="116.3" r="2.98"/><circle cx="233.4" cy="115.6" r="2.98"/><circle cx="238.1" cy="122.5" r="2.98"/><circle cx="226" cy="117.1" r="2.98"/><circle cx="225.7" cy="107.9" r="2.98"/><circle cx="228.1" cy="106.1" r="2.98"/><circle cx="228.6" cy="105.1" r="2.98"/><circle cx="241" cy="104" r="2.98"/><circle cx="244.9" cy="112.7" r="2.98"/><circle cx="243.9" cy="116.1" r="2.98"/><circle cx="228.3" cy="112.5" r="2.98"/><circle cx="219.6" cy="110.6" r="2.98"/><circle cx="237.9" cy="119.9" r="2.98"/><circle cx="238.7" cy="121.8" r="2.98"/><circle cx="242.4" cy="102.1" r="2.98"/><circle cx="227.3" cy="104.9" r="2.98"/><circle cx="232.6" cy="98.1" r="2.98"/><circle cx="241.6" cy="101.1" r="2.98"/><circle cx="221" cy="118.5" r="2.98"/><circle cx="234.8" cy="109" r="2.98"/><circle cx="224" cy="100" r="2.98"/><circle cx="219.9" cy="111.6" r="2.98"/><circle cx="220.3" cy="115.9" r="2.98"/><circle cx="226.4" cy="110.6" r="2.98"/><circle cx="221.2" cy="113.4" r="2.98"/><circle cx="220.2" cy="116.6" r="2.98"/><circle cx="239.6" cy="115.8" r="2.98"/><circle cx="236.1" cy="125.1" r="2.98"/><circle cx="234.5" cy="112.5" r="2.98"/><circle cx="231.2" cy="115.9" r="2.98"/><circle cx="231.4" cy="123.8" r="2.98"/><circle cx="224.5" cy="110.7" r="2.98"/><circle cx="229" cy="100.9" r="2.98"/><circle cx="224.8" cy="100.5" r="2.98"/><circle cx="228.1" cy="122.6" r="2.98"/><circle cx="236.8" cy="118.2" r="2.98"/><circle cx="233.5" cy="111.5" r="2.98"/><circle cx="235.2" cy="119.9" r="2.98"/><circle cx="220.7" cy="117.4" r="2.98"/><circle cx="237.1" cy="117.2" r="2.98"/><circle cx="232" cy="122.2" r="2.98"/><circle cx="233.8" cy="98.7" r="2.98"/><circle cx="243.2" cy="112.3" r="2.98"/><circle cx="220.5" cy="109" r="2.98"/><circle cx="230.4" cy="109.1" r="2.98"/><circle cx="240.4" cy="122.2" r="2.98"/><circle cx="239.1" cy="107.9" r="2.98"/><circle cx="235.8" cy="118.6" r="2.98"/><circle cx="240.2" cy="106" r="2.98"/><circle cx="237.5" cy="122.7" r="2.98"/><circle cx="232.5" cy="118.4" r="2.98"/><circle cx="225.6" cy="109.6" r="2.98"/><circle cx="221.2" cy="128.6" r="2.98"/><circle cx="225" cy="128.1" r="2.98"/><circle cx="229.8" cy="131.2" r="2.98"/><circle cx="233.7" cy="129.9" r="2.98"/><circle cx="224" cy="126.7" r="2.98"/><circle cx="230" cy="126" r="2.98"/><circle cx="226.1" cy="131.4" r="2.98"/><circle cx="219" cy="129.8" r="2.98"/><circle cx="256.3" cy="129.2" r="2.98"/><circle cx="249.2" cy="102.9" r="2.98"/><circle cx="244.9" cy="129.4" r="2.98"/><circle cx="255.7" cy="130.7" r="2.98"/><circle cx="245.8" cy="110.9" r="2.98"/><circle cx="239.6" cy="122.4" r="2.98"/><circle cx="259.7" cy="116.8" r="2.98"/><circle cx="243.1" cy="129.5" r="2.98"/><circle cx="249.6" cy="127.7" r="2.98"/><circle cx="254" cy="104.8" r="2.98"/><circle cx="253.7" cy="109.7" r="2.98"/><circle cx="249" cy="109.8" r="2.98"/><circle cx="242.5" cy="127.1" r="2.98"/><circle cx="260.7" cy="115" r="2.98"/><circle cx="249.7" cy="110.3" r="2.98"/><circle cx="252.5" cy="102.1" r="2.98"/><circle cx="251.6" cy="115.5" r="2.98"/><circle cx="258.3" cy="110.6" r="2.98"/><circle cx="241.9" cy="115.8" r="2.98"/><circle cx="254.1" cy="130.3" r="2.98"/><circle cx="247" cy="130.2" r="2.98"/><circle cx="260.7" cy="117.8" r="2.98"/><circle cx="242.1" cy="113.2" r="2.98"/><circle cx="249.1" cy="113.2" r="2.98"/><circle cx="251.7" cy="105" r="2.98"/><circle cx="238.9" cy="126.3" r="2.98"/><circle cx="260.3" cy="122.2" r="2.98"/><circle cx="241.7" cy="128.5" r="2.98"/><circle cx="251.2" cy="107.8" r="2.98"/><circle cx="239.9" cy="113.2" r="2.98"/><circle cx="246.1" cy="121.7" r="2.98"/><circle cx="257.9" cy="115.6" r="2.98"/><circle cx="240.3" cy="118.4" r="2.98"/><circle cx="243.1" cy="116.3" r="2.98"/><circle cx="259.1" cy="112.9" r="2.98"/><circle cx="242.1" cy="110.9" r="2.98"/><circle cx="250.8" cy="113.3" r="2.98"/><circle cx="250.2" cy="103.6" r="2.98"/><circle cx="252" cy="131.2" r="2.98"/><circle cx="254.6" cy="130.7" r="2.98"/><circle cx="250.6" cy="108.8" r="2.98"/><circle cx="244.3" cy="128.4" r="2.98"/><circle cx="250.9" cy="127.7" r="2.98"/><circle cx="246.1" cy="121.8" r="2.98"/><circle cx="248.5" cy="116.4" r="2.98"/><circle cx="250.8" cy="133.1" r="2.98"/><circle cx="243.9" cy="119.7" r="2.98"/><circle cx="250.5" cy="110.9" r="2.98"/><circle cx="243.8" cy="131" r="2.98"/><circle cx="241.7" cy="111.4" r="2.98"/><circle cx="254.5" cy="107.5" r="2.98"/><circle cx="247.2" cy="131.5" r="2.98"/><circle cx="253.6" cy="125.7" r="2.98"/><circle cx="250.8" cy="110.2" r="2.98"/><circle cx="257.2" cy="105.9" r="2.98"/><circle cx="242.4" cy="126.7" r="2.98"/><circle cx="239.6" cy="124.7" r="2.98"/><circle cx="240.1" cy="117.1" r="2.98"/><circle cx="249" cy="118.7" r="2.98"/><circle cx="247.5" cy="128.9" r="2.98"/><circle cx="239" cy="110.7" r="2.98"/><circle cx="260.8" cy="122.8" r="2.98"/><circle cx="249.7" cy="117.3" r="2.98"/><circle cx="255.2" cy="126.3" r="2.98"/><circle cx="259" cy="130.3" r="2.98"/><circle cx="273.9" cy="144.1" r="2.98"/><circle cx="271.4" cy="121.7" r="2.98"/><circle cx="266.5" cy="137.4" r="2.98"/><circle cx="265.4" cy="142.1" r="2.98"/><circle cx="286.2" cy="135.5" r="2.98"/><circle cx="279.5" cy="132.1" r="2.98"/><circle cx="269.8" cy="126.4" r="2.98"/><circle cx="258.7" cy="123.1" r="2.98"/><circle cx="265.8" cy="128.8" r="2.98"/><circle cx="265.9" cy="143.7" r="2.98"/><circle cx="280.6" cy="121.8" r="2.98"/><circle cx="284.1" cy="129.2" r="2.98"/><circle cx="277.7" cy="125.6" r="2.98"/><circle cx="277.3" cy="139.3" r="2.98"/><circle cx="260.6" cy="136.9" r="2.98"/><circle cx="264.3" cy="137.4" r="2.98"/><circle cx="279.6" cy="138.9" r="2.98"/><circle cx="270.5" cy="143" r="2.98"/><circle cx="275.5" cy="136.3" r="2.98"/><circle cx="283.6" cy="129.4" r="2.98"/><circle cx="276.8" cy="130.3" r="2.98"/><circle cx="277.2" cy="129.4" r="2.98"/><circle cx="263.4" cy="141.7" r="2.98"/><circle cx="266.2" cy="127.9" r="2.98"/><circle cx="272.5" cy="139.1" r="2.98"/><circle cx="273.6" cy="120.2" r="2.98"/><circle cx="276.4" cy="119.1" r="2.98"/><circle cx="269.9" cy="119.6" r="2.98"/><circle cx="263.3" cy="134.7" r="2.98"/><circle cx="270" cy="126.1" r="2.98"/><circle cx="264.3" cy="128.1" r="2.98"/><circle cx="263.3" cy="136.3" r="2.98"/><circle cx="257.3" cy="139.4" r="2.98"/><circle cx="282.8" cy="130.1" r="2.98"/><circle cx="265.5" cy="144.4" r="2.98"/><circle cx="272.5" cy="125.3" r="2.98"/><circle cx="282.7" cy="132" r="2.98"/><circle cx="264.9" cy="142.5" r="2.98"/><circle cx="286.3" cy="135.5" r="2.98"/><circle cx="266.8" cy="131.3" r="2.98"/><circle cx="262" cy="133" r="2.98"/><circle cx="266.7" cy="144.3" r="2.98"/><circle cx="261.7" cy="128.1" r="2.98"/><circle cx="265.5" cy="142.7" r="2.98"/><circle cx="285.5" cy="136.5" r="2.98"/><circle cx="263.3" cy="142.9" r="2.98"/><circle cx="286.4" cy="134.3" r="2.98"/><circle cx="270.8" cy="119.8" r="2.98"/><circle cx="262.3" cy="127.2" r="2.98"/><circle cx="278.3" cy="128.9" r="2.98"/><circle cx="265.5" cy="143.9" r="2.98"/><circle cx="277.9" cy="140.3" r="2.98"/><circle cx="257.8" cy="135.8" r="2.98"/><circle cx="278" cy="132.4" r="2.98"/><circle cx="264.6" cy="142.1" r="2.98"/><circle cx="263.5" cy="121.6" r="2.98"/><circle cx="276.3" cy="123.9" r="2.98"/><circle cx="265.5" cy="123.5" r="2.98"/><circle cx="261.8" cy="128" r="2.98"/><circle cx="268.9" cy="118.7" r="2.98"/><circle cx="277.1" cy="141.3" r="2.98"/><circle cx="273.9" cy="130.5" r="2.98"/><circle cx="286.5" cy="130.5" r="2.98"/><circle cx="262.8" cy="123.7" r="2.98"/><circle cx="259.9" cy="121.7" r="2.98"/><circle cx="276.5" cy="128.2" r="2.98"/><circle cx="278.8" cy="136.9" r="2.98"/><circle cx="265.9" cy="124.2" r="2.98"/><circle cx="261.3" cy="135" r="2.98"/><circle cx="268.3" cy="127.1" r="2.98"/><circle cx="269.2" cy="131.7" r="2.98"/><circle cx="276.2" cy="123" r="2.98"/><circle cx="282.3" cy="108.7" r="2.98"/><circle cx="280.6" cy="113" r="2.98"/><circle cx="296.8" cy="111.5" r="2.98"/><circle cx="297.3" cy="120.7" r="2.98"/><circle cx="286.8" cy="118.7" r="2.98"/><circle cx="286.9" cy="108.6" r="2.98"/><circle cx="298.7" cy="121" r="2.98"/><circle cx="290.9" cy="108.8" r="2.98"/><circle cx="289.1" cy="103" r="2.98"/><circle cx="290.8" cy="122.1" r="2.98"/><circle cx="288.7" cy="111" r="2.98"/><circle cx="284.9" cy="113.6" r="2.98"/><circle cx="301.8" cy="108.1" r="2.98"/><circle cx="294.5" cy="107.3" r="2.98"/><circle cx="291.1" cy="110.2" r="2.98"/><circle cx="284.3" cy="109.4" r="2.98"/><circle cx="303.1" cy="113.6" r="2.98"/><circle cx="288.8" cy="110.8" r="2.98"/><circle cx="299.9" cy="107.8" r="2.98"/><circle cx="282.8" cy="111.8" r="2.98"/><circle cx="283.3" cy="113.7" r="2.98"/><circle cx="299.1" cy="113.7" r="2.98"/><circle cx="293.1" cy="122.2" r="2.98"/><circle cx="299.7" cy="110.3" r="2.98"/><circle cx="296.1" cy="121.3" r="2.98"/><circle cx="299.9" cy="118.8" r="2.98"/><circle cx="292.5" cy="115.5" r="2.98"/><circle cx="287.5" cy="122.4" r="2.98"/><circle cx="291.1" cy="104.7" r="2.98"/><circle cx="293.1" cy="119.4" r="2.98"/><circle cx="291.9" cy="107.7" r="2.98"/><circle cx="290" cy="122.1" r="2.98"/><circle cx="286.5" cy="106.9" r="2.98"/><circle cx="282.2" cy="112" r="2.98"/><circle cx="287.9" cy="106.6" r="2.98"/><circle cx="295.6" cy="113.5" r="2.98"/><circle cx="300.7" cy="120.1" r="2.98"/><circle cx="293.5" cy="118.4" r="2.98"/><circle cx="292.9" cy="103.7" r="2.98"/><circle cx="284.3" cy="108.4" r="2.98"/><circle cx="247.7" cy="143.9" r="2.98"/><circle cx="266.4" cy="149.6" r="2.98"/><circle cx="296.3" cy="145.7" r="2.98"/><circle cx="288.1" cy="137.7" r="2.98"/><circle cx="298.2" cy="147.2" r="2.98"/><circle cx="274" cy="136.7" r="2.98"/><circle cx="240.8" cy="141.7" r="2.98"/><circle cx="298.5" cy="141.1" r="2.98"/><circle cx="279.1" cy="148.2" r="2.98"/><circle cx="281.1" cy="136.7" r="2.98"/><circle cx="292.5" cy="148.8" r="2.98"/><circle cx="252" cy="147" r="2.98"/><circle cx="261.8" cy="144" r="2.98"/><circle cx="239.4" cy="143.5" r="2.98"/><circle cx="303.7" cy="140.4" r="2.98"/><circle cx="274.5" cy="137.6" r="2.98"/><circle cx="240" cy="143.8" r="2.98"/><circle cx="260.1" cy="137.7" r="2.98"/><circle cx="239.9" cy="143.5" r="2.98"/><circle cx="266.5" cy="138.8" r="2.98"/><circle cx="293.9" cy="146.9" r="2.98"/><circle cx="266.4" cy="151" r="2.98"/><circle cx="281.2" cy="149.2" r="2.98"/><circle cx="271.5" cy="142.8" r="2.98"/><circle cx="275.5" cy="139.2" r="2.98"/><circle cx="259.5" cy="146.4" r="2.98"/><circle cx="273.7" cy="137.3" r="2.98"/><circle cx="275.1" cy="140.5" r="2.98"/><circle cx="293.8" cy="139.1" r="2.98"/><circle cx="290.9" cy="139.5" r="2.98"/><circle cx="286.1" cy="144" r="2.98"/><circle cx="281.3" cy="149.3" r="2.98"/><circle cx="297.7" cy="96.5" r="2.98"/><circle cx="293.9" cy="101.4" r="2.98"/><circle cx="291.6" cy="94.1" r="2.98"/><circle cx="286.8" cy="102.6" r="2.98"/><circle cx="296.8" cy="98" r="2.98"/><circle cx="289.6" cy="98.5" r="2.98"/><circle cx="290.8" cy="98.7" r="2.98"/><circle cx="294.9" cy="97.1" r="2.98"/><circle cx="302.2" cy="80.2" r="2.98"/><circle cx="307" cy="76.7" r="2.98"/><circle cx="305.3" cy="81.2" r="2.98"/><circle cx="302.4" cy="79.2" r="2.98"/><circle cx="311.2" cy="80.1" r="2.98"/><circle cx="315.5" cy="91.5" r="2.98"/><circle cx="321.4" cy="88.4" r="2.98"/><circle cx="318.5" cy="88.1" r="2.98"/><circle cx="325" cy="88.1" r="2.98"/><circle cx="315.5" cy="95.7" r="2.98"/><circle cx="319.7" cy="93.4" r="2.98"/><circle cx="325.9" cy="85.5" r="2.98"/><circle cx="324.2" cy="86.5" r="2.98"/><circle cx="320.5" cy="87.4" r="2.98"/><circle cx="325.7" cy="89.7" r="2.98"/><circle cx="322.2" cy="94.3" r="2.98"/><circle cx="313.2" cy="81.9" r="2.98"/><circle cx="313.1" cy="80.2" r="2.98"/><circle cx="309.8" cy="84.7" r="2.98"/><circle cx="323.5" cy="90.7" r="2.98"/><circle cx="315.1" cy="80.5" r="2.98"/><circle cx="319.4" cy="79.6" r="2.98"/><circle cx="321.5" cy="110.8" r="2.98"/><circle cx="325.6" cy="105.4" r="2.98"/><circle cx="319" cy="104.6" r="2.98"/><circle cx="325.6" cy="98.5" r="2.98"/><circle cx="320.3" cy="96.5" r="2.98"/><circle cx="326.8" cy="104.3" r="2.98"/><circle cx="304.7" cy="94.9" r="2.98"/><circle cx="298.6" cy="98.1" r="2.98"/><circle cx="302.8" cy="96.7" r="2.98"/><circle cx="307.1" cy="96.7" r="2.98"/><circle cx="303.4" cy="88.1" r="2.98"/><circle cx="304" cy="88.5" r="2.98"/><circle cx="298.6" cy="94.4" r="2.98"/><circle cx="300.4" cy="100.9" r="2.98"/><circle cx="297.6" cy="93.4" r="2.98"/><circle cx="296.5" cy="91.7" r="2.98"/><circle cx="341.2" cy="134.4" r="2.98"/><circle cx="347.3" cy="125.5" r="2.98"/><circle cx="340" cy="123.3" r="2.98"/><circle cx="346.7" cy="134.4" r="2.98"/><circle cx="342.5" cy="142.3" r="2.98"/><circle cx="335.6" cy="115.2" r="2.98"/><circle cx="340.2" cy="109.3" r="2.98"/><circle cx="341.6" cy="115.6" r="2.98"/><circle cx="346.7" cy="129.6" r="2.98"/><circle cx="340.9" cy="123.3" r="2.98"/><circle cx="338.9" cy="112.1" r="2.98"/><circle cx="345.5" cy="120" r="2.98"/><circle cx="338.3" cy="117.5" r="2.98"/><circle cx="339.9" cy="117.1" r="2.98"/><circle cx="334.7" cy="122.9" r="2.98"/><circle cx="341.7" cy="104.3" r="2.98"/><circle cx="343.4" cy="108.8" r="2.98"/><circle cx="343.1" cy="148.8" r="2.98"/><circle cx="345.3" cy="111.9" r="2.98"/><circle cx="341" cy="147.9" r="2.98"/><circle cx="335" cy="123.9" r="2.98"/><circle cx="336.1" cy="119.4" r="2.98"/><circle cx="342.3" cy="115.2" r="2.98"/><circle cx="343.3" cy="139.9" r="2.98"/><circle cx="341.1" cy="146.1" r="2.98"/><circle cx="335.6" cy="120.4" r="2.98"/><circle cx="340.6" cy="110.5" r="2.98"/><circle cx="341.3" cy="121.3" r="2.98"/><circle cx="345.1" cy="129.6" r="2.98"/><circle cx="304.8" cy="131.8" r="2.98"/><circle cx="302.6" cy="133.7" r="2.98"/><circle cx="301.3" cy="133.8" r="2.98"/><circle cx="304.7" cy="142.1" r="2.98"/><circle cx="297.3" cy="149.3" r="2.98"/><circle cx="304.6" cy="132.4" r="2.98"/><circle cx="300" cy="122.5" r="2.98"/><circle cx="296.1" cy="133" r="2.98"/><circle cx="291.3" cy="133.5" r="2.98"/><circle cx="304.9" cy="128.9" r="2.98"/><circle cx="304.6" cy="130.9" r="2.98"/><circle cx="293.6" cy="136.4" r="2.98"/><circle cx="303.8" cy="138.9" r="2.98"/><circle cx="299.2" cy="132" r="2.98"/><circle cx="307.7" cy="131.3" r="2.98"/><circle cx="296.5" cy="148.7" r="2.98"/><circle cx="299" cy="146.6" r="2.98"/><circle cx="299.8" cy="134.7" r="2.98"/><circle cx="298" cy="146.6" r="2.98"/><circle cx="305.4" cy="144.7" r="2.98"/><circle cx="301.7" cy="126.3" r="2.98"/><circle cx="297.9" cy="130.8" r="2.98"/><circle cx="303.5" cy="134.7" r="2.98"/><circle cx="298.7" cy="125.9" r="2.98"/><circle cx="292.8" cy="138.9" r="2.98"/><circle cx="299" cy="131.5" r="2.98"/><circle cx="306.8" cy="103.7" r="2.98"/><circle cx="309.8" cy="111.9" r="2.98"/><circle cx="305.9" cy="98.5" r="2.98"/><circle cx="302.3" cy="104.9" r="2.98"/><circle cx="306.7" cy="100.7" r="2.98"/><circle cx="246.4" cy="137.5" r="2.98"/><circle cx="249.3" cy="140.4" r="2.98"/><circle cx="253.3" cy="135.5" r="2.98"/><circle cx="247.1" cy="143.5" r="2.98"/><circle cx="251.5" cy="143.8" r="2.98"/><circle cx="252.1" cy="142.8" r="2.98"/><circle cx="259.6" cy="137.1" r="2.98"/><circle cx="258.4" cy="141.6" r="2.98"/><circle cx="247.5" cy="145.6" r="2.98"/><circle cx="307.4" cy="96.8" r="2.98"/><circle cx="308.3" cy="110.4" r="2.98"/><circle cx="306.9" cy="112.9" r="2.98"/><circle cx="302.2" cy="107.8" r="2.98"/><circle cx="303.4" cy="122" r="2.98"/><circle cx="305.9" cy="122" r="2.98"/><circle cx="307.1" cy="142.4" r="2.98"/><circle cx="303.3" cy="110.3" r="2.98"/><circle cx="342.9" cy="128.5" r="2.98"/><circle cx="348.9" cy="118.4" r="2.98"/><circle cx="352.2" cy="122.9" r="2.98"/><circle cx="350.5" cy="138.4" r="2.98"/><circle cx="345.6" cy="144.6" r="2.98"/><circle cx="347.9" cy="139.2" r="2.98"/><circle cx="346.6" cy="122.4" r="2.98"/><circle cx="354.3" cy="120" r="2.98"/><circle cx="349.5" cy="106.1" r="2.98"/><circle cx="352.4" cy="126.8" r="2.98"/><circle cx="339.7" cy="139.9" r="2.98"/><circle cx="346.9" cy="141.6" r="2.98"/><circle cx="356.5" cy="120.9" r="2.98"/><circle cx="346.4" cy="122.7" r="2.98"/><circle cx="342.5" cy="130.6" r="2.98"/><circle cx="346.8" cy="112.1" r="2.98"/><circle cx="346.7" cy="123.3" r="2.98"/><circle cx="347.8" cy="110.8" r="2.98"/><circle cx="352.1" cy="121.9" r="2.98"/><circle cx="340.4" cy="129.9" r="2.98"/><circle cx="349.6" cy="110.4" r="2.98"/><circle cx="347.1" cy="119.5" r="2.98"/><circle cx="346.1" cy="115.5" r="2.98"/><circle cx="356.6" cy="123" r="2.98"/><circle cx="361" cy="114.6" r="2.98"/><circle cx="375.2" cy="124" r="2.98"/><circle cx="371.8" cy="137.1" r="2.98"/><circle cx="375.6" cy="128.6" r="2.98"/><circle cx="357.4" cy="142.8" r="2.98"/><circle cx="368" cy="146.9" r="2.98"/><circle cx="361" cy="110.1" r="2.98"/><circle cx="358.8" cy="136.2" r="2.98"/><circle cx="360.9" cy="115.1" r="2.98"/><circle cx="358.6" cy="123.5" r="2.98"/><circle cx="370.7" cy="116.1" r="2.98"/><circle cx="374.8" cy="129.8" r="2.98"/><circle cx="362" cy="120.7" r="2.98"/><circle cx="374.3" cy="129.6" r="2.98"/><circle cx="374.7" cy="125.4" r="2.98"/><circle cx="365.7" cy="142.3" r="2.98"/><circle cx="355.5" cy="126.9" r="2.98"/><circle cx="367.7" cy="145.7" r="2.98"/><circle cx="369.6" cy="145" r="2.98"/><circle cx="362.7" cy="133.8" r="2.98"/><circle cx="359.5" cy="142.4" r="2.98"/><circle cx="373.8" cy="120.2" r="2.98"/><circle cx="352.5" cy="134.6" r="2.98"/><circle cx="367.9" cy="111.8" r="2.98"/><circle cx="357.9" cy="124.5" r="2.98"/><circle cx="358" cy="126" r="2.98"/><circle cx="351.2" cy="126.1" r="2.98"/><circle cx="354.9" cy="126.8" r="2.98"/><circle cx="370.4" cy="129.6" r="2.98"/><circle cx="363.4" cy="149.3" r="2.98"/><circle cx="359.7" cy="116.8" r="2.98"/><circle cx="354.2" cy="141.2" r="2.98"/><circle cx="354.1" cy="138.9" r="2.98"/><circle cx="359.6" cy="111.1" r="2.98"/><circle cx="357.5" cy="125.4" r="2.98"/><circle cx="366" cy="130.6" r="2.98"/><circle cx="370.5" cy="146.7" r="2.98"/><circle cx="364.2" cy="127.5" r="2.98"/><circle cx="362.2" cy="112.4" r="2.98"/><circle cx="355.3" cy="144.4" r="2.98"/><circle cx="372.6" cy="124" r="2.98"/><circle cx="378.5" cy="129.9" r="2.98"/><circle cx="381.3" cy="130.8" r="2.98"/><circle cx="384" cy="118.1" r="2.98"/><circle cx="371.1" cy="136" r="2.98"/><circle cx="381.3" cy="121.5" r="2.98"/><circle cx="370.8" cy="119.9" r="2.98"/><circle cx="377.5" cy="132.9" r="2.98"/><circle cx="375.9" cy="141.3" r="2.98"/><circle cx="382.8" cy="120.8" r="2.98"/><circle cx="378.3" cy="133.8" r="2.98"/><circle cx="373.8" cy="113.6" r="2.98"/><circle cx="378" cy="144.4" r="2.98"/><circle cx="376.9" cy="117.2" r="2.98"/><circle cx="386.3" cy="121.7" r="2.98"/><circle cx="380.5" cy="128.6" r="2.98"/><circle cx="374.7" cy="109.2" r="2.98"/><circle cx="373.2" cy="113.6" r="2.98"/><circle cx="373.2" cy="105.1" r="2.98"/><circle cx="385.9" cy="105.2" r="2.98"/><circle cx="386.8" cy="104.7" r="2.98"/><circle cx="387" cy="103.6" r="2.98"/><circle cx="385.9" cy="103.7" r="2.98"/><circle cx="385.3" cy="117.8" r="2.98"/><circle cx="380.9" cy="112.5" r="2.98"/><circle cx="384.1" cy="115.6" r="2.98"/><circle cx="352" cy="140.1" r="2.98"/><circle cx="351.6" cy="138.4" r="2.98"/><circle cx="348" cy="137.8" r="2.98"/><circle cx="350.6" cy="140.8" r="2.98"/><circle cx="370.4" cy="137.2" r="2.98"/><circle cx="361.9" cy="138.6" r="2.98"/><circle cx="364.6" cy="141.9" r="2.98"/><circle cx="362.2" cy="136.1" r="2.98"/><circle cx="369" cy="136.5" r="2.98"/><circle cx="366.4" cy="130.2" r="2.98"/><circle cx="365.1" cy="130.1" r="2.98"/><circle cx="360.8" cy="135.3" r="2.98"/><circle cx="625.6" cy="76.9" r="2.98"/><circle cx="621.7" cy="95.4" r="2.98"/><circle cx="634.5" cy="89.8" r="2.98"/><circle cx="619.5" cy="97.2" r="2.98"/><circle cx="633" cy="92.5" r="2.98"/><circle cx="626.1" cy="82.8" r="2.98"/><circle cx="618.1" cy="91" r="2.98"/><circle cx="621.1" cy="82.6" r="2.98"/><circle cx="617.1" cy="85" r="2.98"/><circle cx="634.8" cy="90" r="2.98"/><circle cx="620.9" cy="95.7" r="2.98"/><circle cx="630.8" cy="97.5" r="2.98"/><circle cx="627.1" cy="74.9" r="2.98"/><circle cx="633" cy="83.1" r="2.98"/><circle cx="619.3" cy="92.6" r="2.98"/><circle cx="620.3" cy="85.4" r="2.98"/><circle cx="632.9" cy="91.8" r="2.98"/><circle cx="624.5" cy="89.2" r="2.98"/><circle cx="626.9" cy="79.8" r="2.98"/><circle cx="622.3" cy="83.3" r="2.98"/><circle cx="617.4" cy="74.8" r="2.98"/><circle cx="619.2" cy="88.9" r="2.98"/><circle cx="627.4" cy="84.5" r="2.98"/><circle cx="638.6" cy="86.8" r="2.98"/><circle cx="624.5" cy="93.4" r="2.98"/><circle cx="617.3" cy="74.1" r="2.98"/><circle cx="625.9" cy="95.8" r="2.98"/><circle cx="638.7" cy="100.3" r="2.98"/><circle cx="618.1" cy="126" r="2.98"/><circle cx="639.2" cy="105" r="2.98"/><circle cx="625.8" cy="95.8" r="2.98"/><circle cx="613" cy="106.7" r="2.98"/><circle cx="619.2" cy="108.4" r="2.98"/><circle cx="637.4" cy="101.2" r="2.98"/><circle cx="635.5" cy="100.9" r="2.98"/><circle cx="617.6" cy="110.9" r="2.98"/><circle cx="620.7" cy="102.9" r="2.98"/><circle cx="625.8" cy="105.1" r="2.98"/><circle cx="640.1" cy="100.2" r="2.98"/><circle cx="634.5" cy="112.2" r="2.98"/><circle cx="625.5" cy="98.9" r="2.98"/><circle cx="621.9" cy="90.5" r="2.98"/><circle cx="630.8" cy="121.8" r="2.98"/><circle cx="643.7" cy="113.3" r="2.98"/><circle cx="639" cy="123" r="2.98"/><circle cx="627.1" cy="124.4" r="2.98"/><circle cx="632.2" cy="111.1" r="2.98"/><circle cx="627" cy="111.9" r="2.98"/><circle cx="636" cy="104.4" r="2.98"/><circle cx="615.6" cy="123.1" r="2.98"/><circle cx="616" cy="100.3" r="2.98"/><circle cx="630.4" cy="123.3" r="2.98"/><circle cx="636.7" cy="102.2" r="2.98"/><circle cx="642.4" cy="114.3" r="2.98"/><circle cx="625.4" cy="107.3" r="2.98"/><circle cx="636.5" cy="101.1" r="2.98"/><circle cx="616.6" cy="125.8" r="2.98"/><circle cx="620.4" cy="126.9" r="2.98"/><circle cx="623.3" cy="93.9" r="2.98"/><circle cx="619.5" cy="126.4" r="2.98"/><circle cx="632.6" cy="107.8" r="2.98"/><circle cx="636.4" cy="106.6" r="2.98"/><circle cx="639.3" cy="122.9" r="2.98"/><circle cx="621.3" cy="120.3" r="2.98"/><circle cx="616.5" cy="125" r="2.98"/><circle cx="620" cy="123.9" r="2.98"/><circle cx="640.1" cy="116" r="2.98"/><circle cx="616.8" cy="110.3" r="2.98"/><circle cx="632.3" cy="107.8" r="2.98"/><circle cx="630" cy="103.1" r="2.98"/><circle cx="613.6" cy="110.5" r="2.98"/><circle cx="625.4" cy="124.7" r="2.98"/><circle cx="614.1" cy="122.2" r="2.98"/><circle cx="612.8" cy="114.3" r="2.98"/><circle cx="624.2" cy="125.9" r="2.98"/><circle cx="637.3" cy="111" r="2.98"/><circle cx="643.6" cy="113.4" r="2.98"/><circle cx="623.7" cy="95.4" r="2.98"/><circle cx="629.7" cy="96.2" r="2.98"/><circle cx="630.2" cy="106.1" r="2.98"/><circle cx="621.7" cy="89.5" r="2.98"/><circle cx="644" cy="107.8" r="2.98"/><circle cx="629.7" cy="104.5" r="2.98"/><circle cx="612.1" cy="95.6" r="2.98"/><circle cx="641.7" cy="117.2" r="2.98"/><circle cx="632" cy="104.3" r="2.98"/><circle cx="630.7" cy="127.7" r="2.98"/><circle cx="632" cy="127.7" r="2.98"/><circle cx="619.2" cy="107.7" r="2.98"/><circle cx="638" cy="113" r="2.98"/><circle cx="636.7" cy="118.5" r="2.98"/><circle cx="627.1" cy="115" r="2.98"/><circle cx="639.7" cy="100.6" r="2.98"/><circle cx="616.9" cy="99.1" r="2.98"/><circle cx="627" cy="120" r="2.98"/><circle cx="631.4" cy="119.5" r="2.98"/><circle cx="617.2" cy="91.8" r="2.98"/><circle cx="642.4" cy="115.4" r="2.98"/><circle cx="643.2" cy="115.5" r="2.98"/><circle cx="608.6" cy="112.7" r="2.98"/><circle cx="634.4" cy="94.5" r="2.98"/><circle cx="631.6" cy="107.4" r="2.98"/><circle cx="620.9" cy="118.2" r="2.98"/><circle cx="630.8" cy="110.1" r="2.98"/><circle cx="658.8" cy="115.4" r="2.98"/><circle cx="649.3" cy="112.7" r="2.98"/><circle cx="652.5" cy="110.6" r="2.98"/><circle cx="656" cy="98.5" r="2.98"/><circle cx="649.9" cy="116.1" r="2.98"/><circle cx="654.7" cy="110.9" r="2.98"/><circle cx="655.4" cy="117.6" r="2.98"/><circle cx="658" cy="109.1" r="2.98"/><circle cx="659.7" cy="121.7" r="2.98"/><circle cx="658.6" cy="124.1" r="2.98"/><circle cx="658.2" cy="101.8" r="2.98"/><circle cx="648.2" cy="110.4" r="2.98"/><circle cx="651.7" cy="120.6" r="2.98"/><circle cx="653.2" cy="111" r="2.98"/><circle cx="655.9" cy="111.3" r="2.98"/><circle cx="655.6" cy="109.3" r="2.98"/><circle cx="657.7" cy="120.4" r="2.98"/><circle cx="651.9" cy="118.5" r="2.98"/><circle cx="651.1" cy="104.8" r="2.98"/><circle cx="656.7" cy="114.3" r="2.98"/><circle cx="656.7" cy="100.3" r="2.98"/><circle cx="659.7" cy="102.4" r="2.98"/><circle cx="662.9" cy="109.4" r="2.98"/><circle cx="662.4" cy="116.9" r="2.98"/><circle cx="657.1" cy="106.3" r="2.98"/><circle cx="658.3" cy="100.3" r="2.98"/><circle cx="654.1" cy="118.1" r="2.98"/><circle cx="657.4" cy="124.2" r="2.98"/><circle cx="674" cy="139.9" r="2.98"/><circle cx="670" cy="130.9" r="2.98"/><circle cx="676.4" cy="112.2" r="2.98"/><circle cx="665.7" cy="112.8" r="2.98"/><circle cx="674.4" cy="120.7" r="2.98"/><circle cx="676.9" cy="107.9" r="2.98"/><circle cx="673.7" cy="104.1" r="2.98"/><circle cx="664.6" cy="126.7" r="2.98"/><circle cx="671" cy="129.4" r="2.98"/><circle cx="671" cy="137.5" r="2.98"/><circle cx="673" cy="104.3" r="2.98"/><circle cx="677.1" cy="128.4" r="2.98"/><circle cx="666.5" cy="111.3" r="2.98"/><circle cx="678.7" cy="113.9" r="2.98"/><circle cx="669.3" cy="122.1" r="2.98"/><circle cx="675" cy="122.8" r="2.98"/><circle cx="670.1" cy="104.7" r="2.98"/><circle cx="668.4" cy="138.2" r="2.98"/><circle cx="680.2" cy="129.8" r="2.98"/><circle cx="673.4" cy="108.5" r="2.98"/><circle cx="673.7" cy="136.9" r="2.98"/><circle cx="671.3" cy="126.6" r="2.98"/><circle cx="669.6" cy="115.3" r="2.98"/><circle cx="673" cy="117.6" r="2.98"/><circle cx="669.6" cy="133.8" r="2.98"/><circle cx="672.2" cy="115.6" r="2.98"/><circle cx="678" cy="118.8" r="2.98"/><circle cx="677.6" cy="116.9" r="2.98"/><circle cx="668.4" cy="118.4" r="2.98"/><circle cx="663.7" cy="120.7" r="2.98"/><circle cx="674.6" cy="124.5" r="2.98"/><circle cx="678.2" cy="125.5" r="2.98"/><circle cx="676.5" cy="119.7" r="2.98"/><circle cx="675.2" cy="125.7" r="2.98"/><circle cx="674" cy="133.8" r="2.98"/><circle cx="678.7" cy="129.7" r="2.98"/><circle cx="678.5" cy="116.5" r="2.98"/><circle cx="673.2" cy="121.5" r="2.98"/><circle cx="675.6" cy="120.2" r="2.98"/><circle cx="668.2" cy="103.3" r="2.98"/><circle cx="679.8" cy="115.7" r="2.98"/><circle cx="670" cy="125.2" r="2.98"/><circle cx="665.2" cy="122.5" r="2.98"/><circle cx="670.9" cy="106" r="2.98"/><circle cx="656.7" cy="139" r="2.98"/><circle cx="645.8" cy="133.7" r="2.98"/><circle cx="660.8" cy="135.7" r="2.98"/><circle cx="653.1" cy="134.6" r="2.98"/><circle cx="648.1" cy="133.1" r="2.98"/><circle cx="617.6" cy="129.6" r="2.98"/><circle cx="611.7" cy="136.1" r="2.98"/><circle cx="607" cy="139" r="2.98"/><circle cx="609.8" cy="130.9" r="2.98"/><circle cx="677.1" cy="140.6" r="2.98"/><circle cx="680.4" cy="133.9" r="2.98"/><circle cx="672.5" cy="143.8" r="2.98"/><circle cx="672" cy="147.1" r="2.98"/><circle cx="671" cy="147.3" r="2.98"/><circle cx="672.7" cy="148.4" r="2.98"/><circle cx="677" cy="142.3" r="2.98"/><circle cx="672.1" cy="142.8" r="2.98"/><circle cx="676.4" cy="144" r="2.98"/><circle cx="674.6" cy="140.4" r="2.98"/><circle cx="603.9" cy="137.1" r="2.98"/><circle cx="605.6" cy="144.6" r="2.98"/><circle cx="611.3" cy="137.3" r="2.98"/><circle cx="606.6" cy="136.3" r="2.98"/><circle cx="338.3" cy="166.1" r="2.98"/><circle cx="339.6" cy="170.6" r="2.98"/><circle cx="338.8" cy="170.2" r="2.98"/><circle cx="340.9" cy="166.3" r="2.98"/><circle cx="335.4" cy="170.3" r="2.98"/><circle cx="334.9" cy="156.2" r="2.98"/><circle cx="339.4" cy="154.2" r="2.98"/><circle cx="338.1" cy="153.9" r="2.98"/><circle cx="343.3" cy="156.1" r="2.98"/><circle cx="342.3" cy="157.8" r="2.98"/>
</g>
<g fill="#231f20">
<circle cx="63.7" cy="475.6" r="3.45"/><circle cx="60.5" cy="481.9" r="3.45"/><circle cx="63.8" cy="473.9" r="3.45"/><circle cx="65.6" cy="478.6" r="3.45"/><circle cx="72" cy="468.5" r="3.45"/><circle cx="68.9" cy="483" r="3.45"/><circle cx="71" cy="475.2" r="3.45"/><circle cx="77.9" cy="482" r="3.45"/><circle cx="79.5" cy="476" r="3.45"/><circle cx="63.9" cy="471.6" r="3.45"/><circle cx="318.4" cy="466.3" r="3.45"/><circle cx="320.8" cy="468.1" r="3.45"/><circle cx="315.3" cy="469.4" r="3.45"/><circle cx="313.7" cy="466.3" r="3.45"/><circle cx="318.2" cy="461.8" r="3.45"/><circle cx="311.2" cy="461.8" r="3.45"/><circle cx="312" cy="461.4" r="3.45"/><circle cx="314.1" cy="471.1" r="3.45"/><circle cx="306.7" cy="495.7" r="3.45"/><circle cx="298.1" cy="487.8" r="3.45"/><circle cx="300.3" cy="501" r="3.45"/><circle cx="303.1" cy="498" r="3.45"/><circle cx="294.9" cy="500.6" r="3.45"/><circle cx="295" cy="501.4" r="3.45"/><circle cx="303.7" cy="488.5" r="3.45"/><circle cx="299.8" cy="496.1" r="3.45"/><circle cx="404.3" cy="477.1" r="3.45"/><circle cx="406" cy="483.1" r="3.45"/><circle cx="413" cy="471.6" r="3.45"/><circle cx="413.9" cy="487.2" r="3.45"/><circle cx="413.4" cy="478.2" r="3.45"/><circle cx="415.7" cy="460.2" r="3.45"/><circle cx="415.2" cy="479.5" r="3.45"/><circle cx="418.5" cy="476.2" r="3.45"/><circle cx="419.6" cy="486.1" r="3.45"/><circle cx="407" cy="478" r="3.45"/><circle cx="414.5" cy="468.1" r="3.45"/><circle cx="412.5" cy="470.3" r="3.45"/><circle cx="411.7" cy="476.8" r="3.45"/><circle cx="414.4" cy="481.1" r="3.45"/><circle cx="410.7" cy="490.3" r="3.45"/><circle cx="411.6" cy="494.6" r="3.45"/><circle cx="403.8" cy="499.6" r="3.45"/><circle cx="401.7" cy="491.9" r="3.45"/><circle cx="410.6" cy="497.3" r="3.45"/><circle cx="407.2" cy="501" r="3.45"/><circle cx="403.3" cy="503.4" r="3.45"/><circle cx="412.3" cy="499.3" r="3.45"/><circle cx="429.2" cy="494.5" r="3.45"/><circle cx="428.2" cy="491.6" r="3.45"/><circle cx="426.7" cy="501" r="3.45"/><circle cx="423.7" cy="499.4" r="3.45"/><circle cx="435.1" cy="486.2" r="3.45"/><circle cx="433.1" cy="504.5" r="3.45"/><circle cx="434.2" cy="480.1" r="3.45"/><circle cx="432.6" cy="506.7" r="3.45"/><circle cx="437.3" cy="491.2" r="3.45"/><circle cx="434.4" cy="494.7" r="3.45"/><circle cx="425.5" cy="486.1" r="3.45"/><circle cx="435.2" cy="505.3" r="3.45"/><circle cx="432.7" cy="496.5" r="3.45"/><circle cx="430.1" cy="488.1" r="3.45"/><circle cx="402.4" cy="480" r="3.45"/><circle cx="400.4" cy="485.5" r="3.45"/><circle cx="401" cy="480.2" r="3.45"/><circle cx="514.7" cy="483" r="3.45"/><circle cx="519.2" cy="469.9" r="3.45"/><circle cx="512.8" cy="490.8" r="3.45"/><circle cx="517.3" cy="493.1" r="3.45"/><circle cx="514.2" cy="481" r="3.45"/><circle cx="521" cy="482.8" r="3.45"/><circle cx="511.3" cy="483.8" r="3.45"/><circle cx="519.8" cy="487.6" r="3.45"/><circle cx="519.3" cy="473.2" r="3.45"/><circle cx="508.5" cy="466.4" r="3.45"/><circle cx="506.6" cy="472.6" r="3.45"/><circle cx="518.3" cy="480.3" r="3.45"/><circle cx="515.6" cy="478" r="3.45"/><circle cx="523.1" cy="476.1" r="3.45"/><circle cx="500.6" cy="505.1" r="3.45"/><circle cx="500.7" cy="497.1" r="3.45"/><circle cx="505.6" cy="506.6" r="3.45"/><circle cx="499.3" cy="505.6" r="3.45"/><circle cx="506.6" cy="499.7" r="3.45"/><circle cx="499.4" cy="495.3" r="3.45"/><circle cx="507.2" cy="500.4" r="3.45"/><circle cx="499.5" cy="499.1" r="3.45"/><circle cx="506.3" cy="497.2" r="3.45"/><circle cx="502.6" cy="498" r="3.45"/><circle cx="514.6" cy="464.3" r="3.45"/><circle cx="516.1" cy="470.1" r="3.45"/><circle cx="516.1" cy="463.8" r="3.45"/><circle cx="518.6" cy="465.5" r="3.45"/><circle cx="551.5" cy="495.1" r="3.45"/><circle cx="545.6" cy="515.9" r="3.45"/><circle cx="545.2" cy="499.6" r="3.45"/><circle cx="549.9" cy="497.1" r="3.45"/><circle cx="548.4" cy="501.8" r="3.45"/><circle cx="547.8" cy="504.9" r="3.45"/><circle cx="548.8" cy="518.2" r="3.45"/><circle cx="544.8" cy="506.9" r="3.45"/><circle cx="564.1" cy="485.9" r="3.45"/><circle cx="563.4" cy="488.5" r="3.45"/><circle cx="596.4" cy="505.2" r="3.45"/><circle cx="599.9" cy="513.3" r="3.45"/><circle cx="594.3" cy="502.3" r="3.45"/><circle cx="602.2" cy="505.9" r="3.45"/><circle cx="625.8" cy="456.2" r="3.45"/><circle cx="625.5" cy="472.9" r="3.45"/><circle cx="628.7" cy="457" r="3.45"/><circle cx="624.7" cy="483.6" r="3.45"/><circle cx="84.5" cy="448.4" r="3.45"/><circle cx="78" cy="452.7" r="3.45"/><circle cx="78" cy="456.4" r="3.45"/><circle cx="91.3" cy="454.5" r="3.45"/><circle cx="88.3" cy="457.6" r="3.45"/><circle cx="115.1" cy="446.6" r="3.45"/><circle cx="119.7" cy="458.7" r="3.45"/><circle cx="128.1" cy="466.8" r="3.45"/><circle cx="118.9" cy="468.6" r="3.45"/><circle cx="124.3" cy="471.4" r="3.45"/><circle cx="128.1" cy="474.8" r="3.45"/><circle cx="115.1" cy="477.5" r="3.45"/><circle cx="133.5" cy="486.7" r="3.45"/><circle cx="128.9" cy="492.1" r="3.45"/><circle cx="125.1" cy="494.1" r="3.45"/><circle cx="133.2" cy="499.8" r="3.45"/><circle cx="110.2" cy="492.6" r="3.45"/><circle cx="103.3" cy="498.7" r="3.45"/><circle cx="44.6" cy="481.8" r="3.45"/><circle cx="45.4" cy="491.3" r="3.45"/><circle cx="91.3" cy="474.2" r="3.45"/><circle cx="83.7" cy="477.2" r="3.45"/><circle cx="79.1" cy="463" r="3.45"/><circle cx="73" cy="464.5" r="3.45"/><circle cx="80.6" cy="464.5" r="3.45"/><circle cx="66.8" cy="467.6" r="3.45"/><circle cx="70.7" cy="469.9" r="3.45"/><circle cx="75.3" cy="470.6" r="3.45"/><circle cx="60.7" cy="473.7" r="3.45"/><circle cx="65.3" cy="475.2" r="3.45"/><circle cx="69.9" cy="475.2" r="3.45"/><circle cx="74.5" cy="476" r="3.45"/><circle cx="78.3" cy="475.2" r="3.45"/><circle cx="63" cy="478.3" r="3.45"/><circle cx="71.4" cy="480.6" r="3.45"/><circle cx="76" cy="481.4" r="3.45"/><circle cx="59.9" cy="483.7" r="3.45"/><circle cx="56.9" cy="486" r="3.45"/><circle cx="63" cy="486.7" r="3.45"/><circle cx="68.4" cy="486" r="3.45"/><circle cx="73" cy="486" r="3.45"/><circle cx="76.8" cy="485.2" r="3.45"/><circle cx="80.6" cy="486.7" r="3.45"/><circle cx="67.6" cy="490.6" r="3.45"/><circle cx="71.4" cy="491.3" r="3.45"/><circle cx="75.3" cy="492.1" r="3.45"/><circle cx="64.5" cy="495.2" r="3.45"/><circle cx="69.9" cy="494.4" r="3.45"/><circle cx="54.6" cy="495.5" r="3.45"/><circle cx="91.3" cy="494.1" r="3.45"/><circle cx="87.5" cy="496" r="3.45"/><circle cx="79.9" cy="497.5" r="3.45"/><circle cx="81.4" cy="502.9" r="3.45"/><circle cx="86" cy="503.6" r="3.45"/><circle cx="89.8" cy="509.8" r="3.45"/><circle cx="81.4" cy="514" r="3.45"/><circle cx="73.7" cy="505.9" r="3.45"/><circle cx="69.1" cy="509.8" r="3.45"/><circle cx="63" cy="509.8" r="3.45"/><circle cx="47.7" cy="509.8" r="3.45"/><circle cx="46.1" cy="514" r="3.45"/><circle cx="56.1" cy="522" r="3.45"/><circle cx="55.3" cy="526.6" r="3.45"/><circle cx="69.9" cy="521.7" r="3.45"/><circle cx="65" cy="526.9" r="3.45"/><circle cx="87.2" cy="521.7" r="3.45"/><circle cx="86" cy="526.9" r="3.45"/><circle cx="88.7" cy="539.6" r="3.45"/><circle cx="65" cy="545.3" r="3.45"/><circle cx="71.1" cy="550.7" r="3.45"/><circle cx="64.5" cy="558" r="3.45"/><circle cx="65.3" cy="557.3" r="3.45"/><circle cx="55.8" cy="586.4" r="3.45"/><circle cx="209" cy="448.4" r="3.45"/><circle cx="197" cy="453.3" r="3.45"/><circle cx="195.9" cy="457.3" r="3.45"/><circle cx="209" cy="455.3" r="3.45"/><circle cx="209.7" cy="458.4" r="3.45"/><circle cx="207.4" cy="462.5" r="3.45"/><circle cx="210.8" cy="465.6" r="3.45"/><circle cx="227.1" cy="470.2" r="3.45"/><circle cx="227.1" cy="474.2" r="3.45"/><circle cx="196.7" cy="472.9" r="3.45"/><circle cx="209.7" cy="476" r="3.45"/><circle cx="206.2" cy="481.8" r="3.45"/><circle cx="211.7" cy="481.8" r="3.45"/><circle cx="220.5" cy="483.4" r="3.45"/><circle cx="226.1" cy="484" r="3.45"/><circle cx="234.6" cy="482.6" r="3.45"/><circle cx="227.7" cy="489" r="3.45"/><circle cx="224.8" cy="492.1" r="3.45"/><circle cx="208.2" cy="495.2" r="3.45"/><circle cx="211.7" cy="497.2" r="3.45"/><circle cx="220.8" cy="499.8" r="3.45"/><circle cx="229.2" cy="508.2" r="3.45"/><circle cx="236.3" cy="509.4" r="3.45"/><circle cx="222.8" cy="511.6" r="3.45"/><circle cx="228.6" cy="513.6" r="3.45"/><circle cx="223.5" cy="516.7" r="3.45"/><circle cx="239.9" cy="516.7" r="3.45"/><circle cx="208.2" cy="520" r="3.45"/><circle cx="238.4" cy="522.5" r="3.45"/><circle cx="221.7" cy="525.9" r="3.45"/><circle cx="227.7" cy="526.6" r="3.45"/><circle cx="232" cy="533.8" r="3.45"/><circle cx="207.4" cy="561.7" r="3.45"/><circle cx="297" cy="450.7" r="3.45"/><circle cx="308.2" cy="449.2" r="3.45"/><circle cx="313.9" cy="448.1" r="3.45"/><circle cx="317.4" cy="451.5" r="3.45"/><circle cx="296.7" cy="459.1" r="3.45"/><circle cx="304.4" cy="456.1" r="3.45"/><circle cx="301.3" cy="462.2" r="3.45"/><circle cx="315.1" cy="455.3" r="3.45"/><circle cx="324" cy="457.6" r="3.45"/><circle cx="309" cy="463" r="3.45"/><circle cx="319.7" cy="461.4" r="3.45"/><circle cx="324.3" cy="463" r="3.45"/><circle cx="307.4" cy="468.3" r="3.45"/><circle cx="312" cy="469.1" r="3.45"/><circle cx="318.2" cy="466.8" r="3.45"/><circle cx="322.8" cy="468.3" r="3.45"/><circle cx="325.8" cy="470.2" r="3.45"/><circle cx="319.7" cy="472.2" r="3.45"/><circle cx="305.1" cy="474.9" r="3.45"/><circle cx="334.3" cy="473.7" r="3.45"/><circle cx="315.9" cy="479.1" r="3.45"/><circle cx="321.2" cy="479.1" r="3.45"/><circle cx="324" cy="483.7" r="3.45"/><circle cx="318.2" cy="484.4" r="3.45"/><circle cx="315.9" cy="489.8" r="3.45"/><circle cx="321.2" cy="491.3" r="3.45"/><circle cx="320.5" cy="494.4" r="3.45"/><circle cx="283.7" cy="481.4" r="3.45"/><circle cx="285.5" cy="483.7" r="3.45"/><circle cx="295.9" cy="484.4" r="3.45"/><circle cx="299.8" cy="483.7" r="3.45"/><circle cx="305.1" cy="488.3" r="3.45"/><circle cx="294.4" cy="492.1" r="3.45"/><circle cx="301.3" cy="491.3" r="3.45"/><circle cx="306.7" cy="492.9" r="3.45"/><circle cx="274.5" cy="491.8" r="3.45"/><circle cx="298.2" cy="496" r="3.45"/><circle cx="303.6" cy="496.7" r="3.45"/><circle cx="294.4" cy="499.8" r="3.45"/><circle cx="300.5" cy="500.6" r="3.45"/><circle cx="278.8" cy="500.2" r="3.45"/><circle cx="309.4" cy="502.9" r="3.45"/><circle cx="293.6" cy="503.6" r="3.45"/><circle cx="299" cy="505.2" r="3.45"/><circle cx="302.8" cy="505.9" r="3.45"/><circle cx="291.3" cy="507.5" r="3.45"/><circle cx="289.8" cy="509.8" r="3.45"/><circle cx="300.5" cy="511.3" r="3.45"/><circle cx="322.3" cy="502.4" r="3.45"/><circle cx="322.3" cy="509.8" r="3.45"/><circle cx="331.5" cy="507.8" r="3.45"/><circle cx="336.9" cy="504.4" r="3.45"/><circle cx="327.4" cy="514.4" r="3.45"/><circle cx="299" cy="517.4" r="3.45"/><circle cx="302.1" cy="522" r="3.45"/><circle cx="326.6" cy="523.9" r="3.45"/><circle cx="263.8" cy="508.7" r="3.45"/><circle cx="266.1" cy="512.1" r="3.45"/><circle cx="282.9" cy="512.1" r="3.45"/><circle cx="280.6" cy="515.9" r="3.45"/><circle cx="283.7" cy="517.4" r="3.45"/><circle cx="271.9" cy="518.6" r="3.45"/><circle cx="279.1" cy="521.3" r="3.45"/><circle cx="290.6" cy="523.9" r="3.45"/><circle cx="261.9" cy="527.4" r="3.45"/><circle cx="274" cy="528.9" r="3.45"/><circle cx="282.9" cy="528.9" r="3.45"/><circle cx="286" cy="528.2" r="3.45"/><circle cx="297.5" cy="528.9" r="3.45"/><circle cx="306.7" cy="528.9" r="3.45"/><circle cx="240.8" cy="515.9" r="3.45"/><circle cx="240" cy="522" r="3.45"/><circle cx="337.3" cy="517.4" r="3.45"/><circle cx="282.2" cy="539.6" r="3.45"/><circle cx="293.2" cy="541.2" r="3.45"/><circle cx="273.7" cy="547.3" r="3.45"/><circle cx="294.9" cy="560.2" r="3.45"/><circle cx="309.4" cy="563.4" r="3.45"/><circle cx="321.2" cy="567.5" r="3.45"/><circle cx="289" cy="574.4" r="3.45"/><circle cx="335.8" cy="575.2" r="3.45"/><circle cx="335" cy="555.7" r="3.45"/><circle cx="335" cy="547.3" r="3.45"/><circle cx="339.3" cy="543.8" r="3.45"/><circle cx="333.5" cy="539.2" r="3.45"/><circle cx="337.3" cy="536.9" r="3.45"/><circle cx="342.7" cy="538.4" r="3.45"/><circle cx="332.4" cy="534.3" r="3.45"/><circle cx="346.9" cy="477.2" r="3.45"/><circle cx="354.9" cy="478.3" r="3.45"/><circle cx="343.8" cy="493.6" r="3.45"/><circle cx="340" cy="492.9" r="3.45"/><circle cx="342.3" cy="502.1" r="3.45"/><circle cx="354.9" cy="502.9" r="3.45"/><circle cx="342.3" cy="511.3" r="3.45"/><circle cx="345.4" cy="514.4" r="3.45"/><circle cx="347.7" cy="517.4" r="3.45"/><circle cx="343.8" cy="527.4" r="3.45"/><circle cx="340.8" cy="519" r="3.45"/><circle cx="373.4" cy="484.9" r="3.45"/><circle cx="381.7" cy="485.2" r="3.45"/><circle cx="369.9" cy="492.1" r="3.45"/><circle cx="383.7" cy="492.1" r="3.45"/><circle cx="378.3" cy="507.5" r="3.45"/><circle cx="371.4" cy="512.1" r="3.45"/><circle cx="372.2" cy="514.4" r="3.45"/><circle cx="386" cy="512.8" r="3.45"/><circle cx="384.5" cy="518.2" r="3.45"/><circle cx="382.9" cy="522" r="3.45"/><circle cx="371.4" cy="527.4" r="3.45"/><circle cx="381.4" cy="527.4" r="3.45"/><circle cx="413.3" cy="452.7" r="3.45"/><circle cx="405.9" cy="461.4" r="3.45"/><circle cx="425.1" cy="461.1" r="3.45"/><circle cx="397.9" cy="463.7" r="3.45"/><circle cx="396.7" cy="469.6" r="3.45"/><circle cx="418.9" cy="463" r="3.45"/><circle cx="412" cy="464.5" r="3.45"/><circle cx="403.6" cy="470.6" r="3.45"/><circle cx="409" cy="468.3" r="3.45"/><circle cx="415.1" cy="468.3" r="3.45"/><circle cx="421.2" cy="469.1" r="3.45"/><circle cx="423.5" cy="473.7" r="3.45"/><circle cx="413.6" cy="474.5" r="3.45"/><circle cx="418.2" cy="476" r="3.45"/><circle cx="407.4" cy="476" r="3.45"/><circle cx="402.1" cy="480.6" r="3.45"/><circle cx="397.5" cy="484.4" r="3.45"/><circle cx="412" cy="483.7" r="3.45"/><circle cx="418.2" cy="482.1" r="3.45"/><circle cx="423.5" cy="480.6" r="3.45"/><circle cx="438.1" cy="479.1" r="3.45"/><circle cx="432" cy="481.4" r="3.45"/><circle cx="435.8" cy="484.4" r="3.45"/><circle cx="425.8" cy="486.7" r="3.45"/><circle cx="431.2" cy="487.5" r="3.45"/><circle cx="438.1" cy="488.3" r="3.45"/><circle cx="401.3" cy="490.6" r="3.45"/><circle cx="412" cy="489" r="3.45"/><circle cx="418.2" cy="493.6" r="3.45"/><circle cx="399.8" cy="496.7" r="3.45"/><circle cx="405.9" cy="497.5" r="3.45"/><circle cx="412" cy="497.5" r="3.45"/><circle cx="416.6" cy="498.3" r="3.45"/><circle cx="399" cy="503.6" r="3.45"/><circle cx="407.4" cy="503.6" r="3.45"/><circle cx="413.6" cy="502.9" r="3.45"/><circle cx="425.8" cy="494.4" r="3.45"/><circle cx="432" cy="492.9" r="3.45"/><circle cx="437.3" cy="496.7" r="3.45"/><circle cx="427.4" cy="499.8" r="3.45"/><circle cx="432.7" cy="500.6" r="3.45"/><circle cx="430.4" cy="505.2" r="3.45"/><circle cx="405.1" cy="509.8" r="3.45"/><circle cx="409" cy="510.5" r="3.45"/><circle cx="418.2" cy="509.8" r="3.45"/><circle cx="428.1" cy="510.5" r="3.45"/><circle cx="433.5" cy="509.8" r="3.45"/><circle cx="438.1" cy="509.8" r="3.45"/><circle cx="429.7" cy="514.4" r="3.45"/><circle cx="434.3" cy="514.4" r="3.45"/><circle cx="432" cy="518.2" r="3.45"/><circle cx="409.3" cy="521.6" r="3.45"/><circle cx="427.8" cy="528.2" r="3.45"/><circle cx="352.3" cy="531" r="3.45"/><circle cx="343.1" cy="538.4" r="3.45"/><circle cx="340" cy="543" r="3.45"/><circle cx="381.4" cy="531.5" r="3.45"/><circle cx="382.2" cy="536.1" r="3.45"/><circle cx="387.8" cy="538.1" r="3.45"/><circle cx="404.7" cy="545.6" r="3.45"/><circle cx="372.5" cy="550.7" r="3.45"/><circle cx="405.9" cy="563.4" r="3.45"/><circle cx="398.7" cy="577.5" r="3.45"/><circle cx="376.8" cy="578.7" r="3.45"/><circle cx="367.3" cy="580.3" r="3.45"/><circle cx="387.8" cy="605.9" r="3.45"/><circle cx="437.3" cy="533.5" r="3.45"/><circle cx="461" cy="498.6" r="3.45"/><circle cx="461" cy="517.4" r="3.45"/><circle cx="536.6" cy="441.5" r="3.45"/><circle cx="523.5" cy="447.6" r="3.45"/><circle cx="522" cy="449.9" r="3.45"/><circle cx="544.2" cy="451.5" r="3.45"/><circle cx="512.8" cy="458.4" r="3.45"/><circle cx="523.5" cy="459.1" r="3.45"/><circle cx="528.1" cy="459.1" r="3.45"/><circle cx="532" cy="461.4" r="3.45"/><circle cx="536.3" cy="465.3" r="3.45"/><circle cx="506.7" cy="464.5" r="3.45"/><circle cx="532.7" cy="469.9" r="3.45"/><circle cx="509" cy="469.1" r="3.45"/><circle cx="518.2" cy="467.6" r="3.45"/><circle cx="523.5" cy="468.3" r="3.45"/><circle cx="519.7" cy="472.2" r="3.45"/><circle cx="502.8" cy="476.8" r="3.45"/><circle cx="509" cy="476" r="3.45"/><circle cx="515.1" cy="476" r="3.45"/><circle cx="538.1" cy="475.2" r="3.45"/><circle cx="543.5" cy="474.8" r="3.45"/><circle cx="532" cy="477.9" r="3.45"/><circle cx="527.4" cy="479.8" r="3.45"/><circle cx="497.5" cy="482.9" r="3.45"/><circle cx="502.8" cy="484.4" r="3.45"/><circle cx="509" cy="482.1" r="3.45"/><circle cx="515.1" cy="481.4" r="3.45"/><circle cx="520.5" cy="482.9" r="3.45"/><circle cx="516.6" cy="486.7" r="3.45"/><circle cx="510.5" cy="488.3" r="3.45"/><circle cx="522.8" cy="491.3" r="3.45"/><circle cx="528.1" cy="489" r="3.45"/><circle cx="536.6" cy="487.5" r="3.45"/><circle cx="536.6" cy="492.1" r="3.45"/><circle cx="491.7" cy="496" r="3.45"/><circle cx="500.5" cy="495.2" r="3.45"/><circle cx="506.7" cy="494.4" r="3.45"/><circle cx="515.1" cy="494.4" r="3.45"/><circle cx="501.3" cy="499.8" r="3.45"/><circle cx="507.4" cy="499" r="3.45"/><circle cx="515.9" cy="499.8" r="3.45"/><circle cx="491.7" cy="502.9" r="3.45"/><circle cx="499.8" cy="505.2" r="3.45"/><circle cx="502.8" cy="503.6" r="3.45"/><circle cx="515.9" cy="505.2" r="3.45"/><circle cx="490.6" cy="509.8" r="3.45"/><circle cx="495.9" cy="510.5" r="3.45"/><circle cx="518.9" cy="509.8" r="3.45"/><circle cx="504.4" cy="513.6" r="3.45"/><circle cx="499.8" cy="515.9" r="3.45"/><circle cx="494.4" cy="518.2" r="3.45"/><circle cx="488.3" cy="519.7" r="3.45"/><circle cx="515.1" cy="518.2" r="3.45"/><circle cx="510.5" cy="523.9" r="3.45"/><circle cx="482.2" cy="527.4" r="3.45"/><circle cx="492.9" cy="526.6" r="3.45"/><circle cx="496.7" cy="525.1" r="3.45"/><circle cx="488.3" cy="533" r="3.45"/><circle cx="493.6" cy="530" r="3.45"/><circle cx="483.7" cy="539.2" r="3.45"/><circle cx="478" cy="542.2" r="3.45"/><circle cx="495.9" cy="543.8" r="3.45"/><circle cx="478" cy="551.4" r="3.45"/><circle cx="545" cy="555" r="3.45"/><circle cx="557.2" cy="474" r="3.45"/><circle cx="559.2" cy="483.4" r="3.45"/><circle cx="563" cy="485.2" r="3.45"/><circle cx="562.7" cy="489.5" r="3.45"/><circle cx="546.9" cy="489" r="3.45"/><circle cx="547.7" cy="493.6" r="3.45"/><circle cx="557.2" cy="495.2" r="3.45"/><circle cx="550" cy="499" r="3.45"/><circle cx="565.8" cy="500.6" r="3.45"/><circle cx="551.5" cy="503.6" r="3.45"/><circle cx="560.7" cy="504.7" r="3.45"/><circle cx="565.8" cy="505.2" r="3.45"/><circle cx="545.4" cy="505.9" r="3.45"/><circle cx="549.2" cy="508.2" r="3.45"/><circle cx="544.6" cy="511.3" r="3.45"/><circle cx="550.7" cy="512.1" r="3.45"/><circle cx="546.9" cy="515.9" r="3.45"/><circle cx="552.3" cy="517.4" r="3.45"/><circle cx="544.6" cy="521.3" r="3.45"/><circle cx="563.8" cy="520" r="3.45"/><circle cx="550.7" cy="524.3" r="3.45"/><circle cx="585.2" cy="492.6" r="3.45"/><circle cx="581.4" cy="504.4" r="3.45"/><circle cx="583.7" cy="509" r="3.45"/><circle cx="603.9" cy="484" r="3.45"/><circle cx="599" cy="490.9" r="3.45"/><circle cx="606.7" cy="495.2" r="3.45"/><circle cx="599.8" cy="500.9" r="3.45"/><circle cx="605.1" cy="504.4" r="3.45"/><circle cx="602.8" cy="509" r="3.45"/><circle cx="593.6" cy="510.5" r="3.45"/><circle cx="598.2" cy="509.8" r="3.45"/><circle cx="592.9" cy="514.4" r="3.45"/><circle cx="597.9" cy="516.7" r="3.45"/><circle cx="589.8" cy="519" r="3.45"/><circle cx="605.9" cy="519.7" r="3.45"/><circle cx="602.8" cy="524.8" r="3.45"/><circle cx="591.3" cy="527.4" r="3.45"/><circle cx="629.4" cy="443.5" r="3.45"/><circle cx="625.1" cy="445.8" r="3.45"/><circle cx="628.9" cy="450.7" r="3.45"/><circle cx="625.1" cy="457.6" r="3.45"/><circle cx="628.9" cy="460.7" r="3.45"/><circle cx="625.8" cy="467.3" r="3.45"/><circle cx="627.4" cy="472.9" r="3.45"/><circle cx="623.5" cy="480.6" r="3.45"/><circle cx="628.9" cy="484.4" r="3.45"/><circle cx="625.1" cy="491.3" r="3.45"/><circle cx="624.3" cy="495.2" r="3.45"/><circle cx="548.4" cy="533.8" r="3.45"/><circle cx="550" cy="536.1" r="3.45"/><circle cx="546.9" cy="555" r="3.45"/><circle cx="563.8" cy="564.9" r="3.45"/><circle cx="563" cy="589" r="3.45"/><circle cx="589.4" cy="535.3" r="3.45"/><circle cx="597.9" cy="537.9" r="3.45"/><circle cx="603.3" cy="539.6" r="3.45"/><circle cx="591" cy="553.3" r="3.45"/><circle cx="599.5" cy="551.4" r="3.45"/><circle cx="606.7" cy="555.7" r="3.45"/><circle cx="597" cy="559.4" r="3.45"/><circle cx="624.3" cy="548.1" r="3.45"/><circle cx="591.3" cy="582.9" r="3.45"/><circle cx="597.9" cy="591.3" r="3.45"/>
</g>
</svg>
</body></html>
